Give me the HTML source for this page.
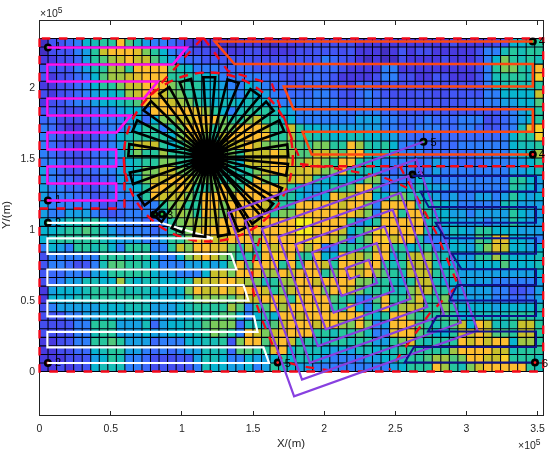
<!DOCTYPE html>
<html><head><meta charset="utf-8"><title>Coverage path planning</title>
<style>html,body{margin:0;padding:0;background:#fff}svg{display:block}text{font-family:"Liberation Sans",Arial,sans-serif;fill:#262626}</style></head><body>
<svg width="550" height="457" viewBox="0 0 550 457">
<rect width="550" height="457" fill="#fff"/>
<rect x="39.5" y="20.0" width="504.0" height="395.5" fill="none" stroke="#262626" stroke-width="1" shape-rendering="crispEdges"/>
<text x="39.5" y="432" font-size="10.5" text-anchor="middle">0</text>
<text x="110.7" y="432" font-size="10.5" text-anchor="middle">0.5</text>
<text x="181.8" y="432" font-size="10.5" text-anchor="middle">1</text>
<text x="253.0" y="432" font-size="10.5" text-anchor="middle">1.5</text>
<text x="324.1" y="432" font-size="10.5" text-anchor="middle">2</text>
<text x="395.3" y="432" font-size="10.5" text-anchor="middle">2.5</text>
<text x="466.4" y="432" font-size="10.5" text-anchor="middle">3</text>
<text x="537.6" y="432" font-size="10.5" text-anchor="middle">3.5</text>
<text x="35" y="375.3" font-size="10.5" text-anchor="end">0</text>
<text x="35" y="304.2" font-size="10.5" text-anchor="end">0.5</text>
<text x="35" y="233.0" font-size="10.5" text-anchor="end">1</text>
<text x="35" y="161.8" font-size="10.5" text-anchor="end">1.5</text>
<text x="35" y="90.7" font-size="10.5" text-anchor="end">2</text>
<path d="M39.5 415.5v-5M39.5 20.0v5M110.7 415.5v-5M110.7 20.0v5M181.8 415.5v-5M181.8 20.0v5M253.0 415.5v-5M253.0 20.0v5M324.1 415.5v-5M324.1 20.0v5M395.3 415.5v-5M395.3 20.0v5M466.4 415.5v-5M466.4 20.0v5M537.6 415.5v-5M537.6 20.0v5M39.5 371.5h5M543.5 371.5h-5M39.5 300.4h5M543.5 300.4h-5M39.5 229.2h5M543.5 229.2h-5M39.5 158.0h5M543.5 158.0h-5M39.5 86.9h5M543.5 86.9h-5" stroke="#262626" stroke-width="1" fill="none" shape-rendering="crispEdges"/>
<text x="291" y="446.5" font-size="11.5" text-anchor="middle">X/(m)</text>
<text transform="translate(9.5,215) rotate(-90)" font-size="11.5" text-anchor="middle">Y/(m)</text>
<text x="40" y="17" font-size="10.5">×10<tspan dy="-4.5" font-size="8.5">5</tspan></text>
<text x="518" y="449" font-size="10.5">×10<tspan dy="-4.5" font-size="8.5">5</tspan></text>
<g shape-rendering="crispEdges">
<path fill="#4330c4" d="M39.50 38.52h8.59v8.59h-8.59zM218.80 38.52h8.59v8.59h-8.59zM227.34 38.52h8.59v8.59h-8.59zM261.49 38.52h8.59v8.59h-8.59zM270.03 38.52h8.59v8.59h-8.59zM39.50 47.06h8.59v8.59h-8.59zM381.02 47.06h8.59v8.59h-8.59zM363.94 55.59h8.59v8.59h-8.59zM381.02 55.59h8.59v8.59h-8.59zM389.56 55.59h8.59v8.59h-8.59z"/>
<path fill="#4256f5" d="M48.04 38.52h8.59v8.59h-8.59zM56.58 38.52h8.59v8.59h-8.59zM176.11 38.52h8.59v8.59h-8.59zM500.55 38.52h8.59v8.59h-8.59zM56.58 47.06h8.59v8.59h-8.59zM65.11 47.06h8.59v8.59h-8.59zM184.65 47.06h8.59v8.59h-8.59zM312.72 47.06h8.59v8.59h-8.59zM321.25 47.06h8.59v8.59h-8.59zM329.79 47.06h8.59v8.59h-8.59zM346.87 47.06h8.59v8.59h-8.59zM398.10 47.06h8.59v8.59h-8.59zM65.11 55.59h8.59v8.59h-8.59zM201.72 55.59h8.59v8.59h-8.59zM210.26 55.59h8.59v8.59h-8.59zM218.80 55.59h8.59v8.59h-8.59zM227.34 55.59h8.59v8.59h-8.59zM235.87 55.59h8.59v8.59h-8.59zM244.41 55.59h8.59v8.59h-8.59zM295.64 55.59h8.59v8.59h-8.59zM304.18 55.59h8.59v8.59h-8.59zM312.72 55.59h8.59v8.59h-8.59zM338.33 55.59h8.59v8.59h-8.59zM39.50 64.13h8.59v8.59h-8.59zM48.04 64.13h8.59v8.59h-8.59zM56.58 64.13h8.59v8.59h-8.59zM65.11 64.13h8.59v8.59h-8.59zM252.95 64.13h8.59v8.59h-8.59zM261.49 64.13h8.59v8.59h-8.59zM270.03 64.13h8.59v8.59h-8.59zM278.56 64.13h8.59v8.59h-8.59zM295.64 64.13h8.59v8.59h-8.59zM304.18 64.13h8.59v8.59h-8.59zM39.50 72.67h8.59v8.59h-8.59zM65.11 72.67h8.59v8.59h-8.59zM278.56 72.67h8.59v8.59h-8.59zM295.64 72.67h8.59v8.59h-8.59zM329.79 72.67h8.59v8.59h-8.59zM432.25 72.67h8.59v8.59h-8.59zM65.11 81.21h8.59v8.59h-8.59zM287.10 81.21h8.59v8.59h-8.59zM295.64 81.21h8.59v8.59h-8.59zM329.79 81.21h8.59v8.59h-8.59zM372.48 81.21h8.59v8.59h-8.59zM381.02 81.21h8.59v8.59h-8.59zM389.56 81.21h8.59v8.59h-8.59zM474.94 81.21h8.59v8.59h-8.59zM65.11 89.75h8.59v8.59h-8.59zM338.33 89.75h8.59v8.59h-8.59zM381.02 89.75h8.59v8.59h-8.59zM415.17 89.75h8.59v8.59h-8.59zM423.71 89.75h8.59v8.59h-8.59zM449.32 89.75h8.59v8.59h-8.59zM457.86 89.75h8.59v8.59h-8.59zM466.40 89.75h8.59v8.59h-8.59zM474.94 89.75h8.59v8.59h-8.59zM56.58 98.28h8.59v8.59h-8.59zM338.33 98.28h8.59v8.59h-8.59zM346.87 98.28h8.59v8.59h-8.59zM389.56 98.28h8.59v8.59h-8.59zM398.10 98.28h8.59v8.59h-8.59zM406.63 98.28h8.59v8.59h-8.59zM415.17 98.28h8.59v8.59h-8.59zM423.71 98.28h8.59v8.59h-8.59zM432.25 98.28h8.59v8.59h-8.59zM440.79 98.28h8.59v8.59h-8.59zM449.32 98.28h8.59v8.59h-8.59zM457.86 98.28h8.59v8.59h-8.59zM39.50 106.82h8.59v8.59h-8.59zM48.04 106.82h8.59v8.59h-8.59zM82.19 106.82h8.59v8.59h-8.59zM398.10 106.82h8.59v8.59h-8.59zM406.63 106.82h8.59v8.59h-8.59zM415.17 106.82h8.59v8.59h-8.59zM423.71 106.82h8.59v8.59h-8.59zM432.25 106.82h8.59v8.59h-8.59zM440.79 106.82h8.59v8.59h-8.59zM449.32 106.82h8.59v8.59h-8.59zM457.86 106.82h8.59v8.59h-8.59zM466.40 106.82h8.59v8.59h-8.59zM474.94 106.82h8.59v8.59h-8.59zM483.48 106.82h8.59v8.59h-8.59zM492.01 106.82h8.59v8.59h-8.59zM82.19 115.36h8.59v8.59h-8.59zM492.01 115.36h8.59v8.59h-8.59zM90.73 123.90h8.59v8.59h-8.59zM483.48 123.90h8.59v8.59h-8.59zM492.01 123.90h8.59v8.59h-8.59zM56.58 132.44h8.59v8.59h-8.59zM90.73 132.44h8.59v8.59h-8.59zM56.58 140.97h8.59v8.59h-8.59zM90.73 140.97h8.59v8.59h-8.59zM56.58 149.51h8.59v8.59h-8.59zM65.11 149.51h8.59v8.59h-8.59zM82.19 149.51h8.59v8.59h-8.59zM65.11 158.05h8.59v8.59h-8.59zM82.19 158.05h8.59v8.59h-8.59zM65.11 166.59h8.59v8.59h-8.59zM73.65 166.59h8.59v8.59h-8.59zM73.65 175.13h8.59v8.59h-8.59zM82.19 175.13h8.59v8.59h-8.59zM90.73 175.13h8.59v8.59h-8.59zM82.19 183.66h8.59v8.59h-8.59zM90.73 183.66h8.59v8.59h-8.59zM90.73 192.20h8.59v8.59h-8.59zM99.27 192.20h8.59v8.59h-8.59zM99.27 200.74h8.59v8.59h-8.59zM107.80 200.74h8.59v8.59h-8.59zM107.80 209.28h8.59v8.59h-8.59zM39.50 260.51h8.59v8.59h-8.59zM82.19 260.51h8.59v8.59h-8.59zM39.50 269.04h8.59v8.59h-8.59zM509.09 286.12h8.59v8.59h-8.59zM517.63 286.12h8.59v8.59h-8.59zM48.04 311.73h8.59v8.59h-8.59zM56.58 311.73h8.59v8.59h-8.59zM65.11 320.27h8.59v8.59h-8.59zM65.11 328.81h8.59v8.59h-8.59zM65.11 337.35h8.59v8.59h-8.59zM227.34 337.35h8.59v8.59h-8.59zM82.19 354.42h8.59v8.59h-8.59zM176.11 354.42h8.59v8.59h-8.59zM184.65 354.42h8.59v8.59h-8.59zM82.19 362.96h8.59v8.59h-8.59zM159.03 362.96h8.59v8.59h-8.59zM184.65 362.96h8.59v8.59h-8.59z"/>
<path fill="#3b6afc" d="M65.11 38.52h8.59v8.59h-8.59zM167.57 38.52h8.59v8.59h-8.59zM176.11 47.06h8.59v8.59h-8.59zM73.65 55.59h8.59v8.59h-8.59zM184.65 55.59h8.59v8.59h-8.59zM193.18 55.59h8.59v8.59h-8.59zM329.79 55.59h8.59v8.59h-8.59zM218.80 64.13h8.59v8.59h-8.59zM227.34 64.13h8.59v8.59h-8.59zM235.87 64.13h8.59v8.59h-8.59zM244.41 64.13h8.59v8.59h-8.59zM312.72 64.13h8.59v8.59h-8.59zM321.25 64.13h8.59v8.59h-8.59zM329.79 64.13h8.59v8.59h-8.59zM73.65 72.67h8.59v8.59h-8.59zM261.49 72.67h8.59v8.59h-8.59zM270.03 72.67h8.59v8.59h-8.59zM304.18 72.67h8.59v8.59h-8.59zM312.72 72.67h8.59v8.59h-8.59zM321.25 72.67h8.59v8.59h-8.59zM73.65 81.21h8.59v8.59h-8.59zM270.03 81.21h8.59v8.59h-8.59zM278.56 81.21h8.59v8.59h-8.59zM304.18 81.21h8.59v8.59h-8.59zM312.72 81.21h8.59v8.59h-8.59zM321.25 81.21h8.59v8.59h-8.59zM355.41 81.21h8.59v8.59h-8.59zM363.94 81.21h8.59v8.59h-8.59zM73.65 89.75h8.59v8.59h-8.59zM278.56 89.75h8.59v8.59h-8.59zM287.10 89.75h8.59v8.59h-8.59zM295.64 89.75h8.59v8.59h-8.59zM304.18 89.75h8.59v8.59h-8.59zM329.79 89.75h8.59v8.59h-8.59zM355.41 89.75h8.59v8.59h-8.59zM372.48 89.75h8.59v8.59h-8.59zM65.11 98.28h8.59v8.59h-8.59zM355.41 98.28h8.59v8.59h-8.59zM372.48 98.28h8.59v8.59h-8.59zM381.02 98.28h8.59v8.59h-8.59zM466.40 98.28h8.59v8.59h-8.59zM474.94 98.28h8.59v8.59h-8.59zM90.73 106.82h8.59v8.59h-8.59zM346.87 106.82h8.59v8.59h-8.59zM381.02 106.82h8.59v8.59h-8.59zM389.56 106.82h8.59v8.59h-8.59zM500.55 106.82h8.59v8.59h-8.59zM39.50 115.36h8.59v8.59h-8.59zM48.04 115.36h8.59v8.59h-8.59zM90.73 115.36h8.59v8.59h-8.59zM141.96 115.36h8.59v8.59h-8.59zM398.10 115.36h8.59v8.59h-8.59zM406.63 115.36h8.59v8.59h-8.59zM415.17 115.36h8.59v8.59h-8.59zM432.25 115.36h8.59v8.59h-8.59zM440.79 115.36h8.59v8.59h-8.59zM449.32 115.36h8.59v8.59h-8.59zM500.55 115.36h8.59v8.59h-8.59zM48.04 123.90h8.59v8.59h-8.59zM99.27 123.90h8.59v8.59h-8.59zM398.10 123.90h8.59v8.59h-8.59zM406.63 123.90h8.59v8.59h-8.59zM440.79 123.90h8.59v8.59h-8.59zM449.32 123.90h8.59v8.59h-8.59zM474.94 123.90h8.59v8.59h-8.59zM500.55 123.90h8.59v8.59h-8.59zM48.04 132.44h8.59v8.59h-8.59zM99.27 132.44h8.59v8.59h-8.59zM406.63 132.44h8.59v8.59h-8.59zM415.17 132.44h8.59v8.59h-8.59zM423.71 132.44h8.59v8.59h-8.59zM432.25 132.44h8.59v8.59h-8.59zM440.79 132.44h8.59v8.59h-8.59zM449.32 132.44h8.59v8.59h-8.59zM457.86 132.44h8.59v8.59h-8.59zM466.40 132.44h8.59v8.59h-8.59zM474.94 132.44h8.59v8.59h-8.59zM483.48 132.44h8.59v8.59h-8.59zM492.01 132.44h8.59v8.59h-8.59zM48.04 140.97h8.59v8.59h-8.59zM99.27 140.97h8.59v8.59h-8.59zM423.71 140.97h8.59v8.59h-8.59zM432.25 140.97h8.59v8.59h-8.59zM440.79 140.97h8.59v8.59h-8.59zM449.32 140.97h8.59v8.59h-8.59zM48.04 149.51h8.59v8.59h-8.59zM90.73 149.51h8.59v8.59h-8.59zM99.27 149.51h8.59v8.59h-8.59zM423.71 149.51h8.59v8.59h-8.59zM432.25 149.51h8.59v8.59h-8.59zM440.79 149.51h8.59v8.59h-8.59zM449.32 149.51h8.59v8.59h-8.59zM457.86 149.51h8.59v8.59h-8.59zM466.40 149.51h8.59v8.59h-8.59zM56.58 158.05h8.59v8.59h-8.59zM90.73 158.05h8.59v8.59h-8.59zM415.17 158.05h8.59v8.59h-8.59zM449.32 158.05h8.59v8.59h-8.59zM457.86 158.05h8.59v8.59h-8.59zM466.40 158.05h8.59v8.59h-8.59zM474.94 158.05h8.59v8.59h-8.59zM56.58 166.59h8.59v8.59h-8.59zM82.19 166.59h8.59v8.59h-8.59zM90.73 166.59h8.59v8.59h-8.59zM389.56 166.59h8.59v8.59h-8.59zM415.17 166.59h8.59v8.59h-8.59zM56.58 175.13h8.59v8.59h-8.59zM65.11 175.13h8.59v8.59h-8.59zM99.27 175.13h8.59v8.59h-8.59zM107.80 175.13h8.59v8.59h-8.59zM65.11 183.66h8.59v8.59h-8.59zM73.65 183.66h8.59v8.59h-8.59zM99.27 183.66h8.59v8.59h-8.59zM107.80 183.66h8.59v8.59h-8.59zM73.65 192.20h8.59v8.59h-8.59zM82.19 192.20h8.59v8.59h-8.59zM107.80 192.20h8.59v8.59h-8.59zM90.73 200.74h8.59v8.59h-8.59zM116.34 200.74h8.59v8.59h-8.59zM124.88 200.74h8.59v8.59h-8.59zM133.42 200.74h8.59v8.59h-8.59zM99.27 209.28h8.59v8.59h-8.59zM116.34 209.28h8.59v8.59h-8.59zM141.96 217.82h8.59v8.59h-8.59zM150.49 217.82h8.59v8.59h-8.59zM150.49 226.35h8.59v8.59h-8.59zM65.11 260.51h8.59v8.59h-8.59zM48.04 269.04h8.59v8.59h-8.59zM56.58 269.04h8.59v8.59h-8.59zM82.19 269.04h8.59v8.59h-8.59zM48.04 277.58h8.59v8.59h-8.59zM526.17 286.12h8.59v8.59h-8.59zM509.09 294.66h8.59v8.59h-8.59zM517.63 294.66h8.59v8.59h-8.59zM150.49 320.27h8.59v8.59h-8.59zM235.87 320.27h8.59v8.59h-8.59zM150.49 337.35h8.59v8.59h-8.59zM73.65 345.89h8.59v8.59h-8.59zM82.19 345.89h8.59v8.59h-8.59zM150.49 345.89h8.59v8.59h-8.59zM167.57 345.89h8.59v8.59h-8.59zM227.34 345.89h8.59v8.59h-8.59zM141.96 354.42h8.59v8.59h-8.59zM141.96 362.96h8.59v8.59h-8.59z"/>
<path fill="#2e7ffa" d="M73.65 38.52h8.59v8.59h-8.59zM150.49 38.52h8.59v8.59h-8.59zM159.03 38.52h8.59v8.59h-8.59zM73.65 47.06h8.59v8.59h-8.59zM167.57 47.06h8.59v8.59h-8.59zM483.48 47.06h8.59v8.59h-8.59zM492.01 47.06h8.59v8.59h-8.59zM176.11 55.59h8.59v8.59h-8.59zM321.25 55.59h8.59v8.59h-8.59zM483.48 55.59h8.59v8.59h-8.59zM73.65 64.13h8.59v8.59h-8.59zM193.18 64.13h8.59v8.59h-8.59zM201.72 64.13h8.59v8.59h-8.59zM210.26 64.13h8.59v8.59h-8.59zM381.02 64.13h8.59v8.59h-8.59zM389.56 64.13h8.59v8.59h-8.59zM483.48 64.13h8.59v8.59h-8.59zM82.19 72.67h8.59v8.59h-8.59zM218.80 72.67h8.59v8.59h-8.59zM227.34 72.67h8.59v8.59h-8.59zM235.87 72.67h8.59v8.59h-8.59zM244.41 72.67h8.59v8.59h-8.59zM252.95 72.67h8.59v8.59h-8.59zM381.02 72.67h8.59v8.59h-8.59zM389.56 72.67h8.59v8.59h-8.59zM483.48 72.67h8.59v8.59h-8.59zM82.19 81.21h8.59v8.59h-8.59zM227.34 81.21h8.59v8.59h-8.59zM235.87 81.21h8.59v8.59h-8.59zM261.49 81.21h8.59v8.59h-8.59zM483.48 81.21h8.59v8.59h-8.59zM82.19 89.75h8.59v8.59h-8.59zM235.87 89.75h8.59v8.59h-8.59zM270.03 89.75h8.59v8.59h-8.59zM312.72 89.75h8.59v8.59h-8.59zM321.25 89.75h8.59v8.59h-8.59zM363.94 89.75h8.59v8.59h-8.59zM483.48 89.75h8.59v8.59h-8.59zM492.01 89.75h8.59v8.59h-8.59zM73.65 98.28h8.59v8.59h-8.59zM82.19 98.28h8.59v8.59h-8.59zM278.56 98.28h8.59v8.59h-8.59zM287.10 98.28h8.59v8.59h-8.59zM295.64 98.28h8.59v8.59h-8.59zM304.18 98.28h8.59v8.59h-8.59zM312.72 98.28h8.59v8.59h-8.59zM321.25 98.28h8.59v8.59h-8.59zM329.79 98.28h8.59v8.59h-8.59zM363.94 98.28h8.59v8.59h-8.59zM483.48 98.28h8.59v8.59h-8.59zM492.01 98.28h8.59v8.59h-8.59zM99.27 106.82h8.59v8.59h-8.59zM107.80 106.82h8.59v8.59h-8.59zM141.96 106.82h8.59v8.59h-8.59zM227.34 106.82h8.59v8.59h-8.59zM295.64 106.82h8.59v8.59h-8.59zM304.18 106.82h8.59v8.59h-8.59zM312.72 106.82h8.59v8.59h-8.59zM321.25 106.82h8.59v8.59h-8.59zM329.79 106.82h8.59v8.59h-8.59zM338.33 106.82h8.59v8.59h-8.59zM355.41 106.82h8.59v8.59h-8.59zM363.94 106.82h8.59v8.59h-8.59zM372.48 106.82h8.59v8.59h-8.59zM509.09 106.82h8.59v8.59h-8.59zM99.27 115.36h8.59v8.59h-8.59zM107.80 115.36h8.59v8.59h-8.59zM116.34 115.36h8.59v8.59h-8.59zM295.64 115.36h8.59v8.59h-8.59zM304.18 115.36h8.59v8.59h-8.59zM312.72 115.36h8.59v8.59h-8.59zM321.25 115.36h8.59v8.59h-8.59zM329.79 115.36h8.59v8.59h-8.59zM338.33 115.36h8.59v8.59h-8.59zM346.87 115.36h8.59v8.59h-8.59zM381.02 115.36h8.59v8.59h-8.59zM389.56 115.36h8.59v8.59h-8.59zM423.71 115.36h8.59v8.59h-8.59zM457.86 115.36h8.59v8.59h-8.59zM466.40 115.36h8.59v8.59h-8.59zM474.94 115.36h8.59v8.59h-8.59zM509.09 115.36h8.59v8.59h-8.59zM39.50 123.90h8.59v8.59h-8.59zM107.80 123.90h8.59v8.59h-8.59zM116.34 123.90h8.59v8.59h-8.59zM159.03 123.90h8.59v8.59h-8.59zM381.02 123.90h8.59v8.59h-8.59zM389.56 123.90h8.59v8.59h-8.59zM415.17 123.90h8.59v8.59h-8.59zM423.71 123.90h8.59v8.59h-8.59zM432.25 123.90h8.59v8.59h-8.59zM457.86 123.90h8.59v8.59h-8.59zM466.40 123.90h8.59v8.59h-8.59zM509.09 123.90h8.59v8.59h-8.59zM39.50 132.44h8.59v8.59h-8.59zM107.80 132.44h8.59v8.59h-8.59zM398.10 132.44h8.59v8.59h-8.59zM500.55 132.44h8.59v8.59h-8.59zM39.50 140.97h8.59v8.59h-8.59zM107.80 140.97h8.59v8.59h-8.59zM398.10 140.97h8.59v8.59h-8.59zM406.63 140.97h8.59v8.59h-8.59zM415.17 140.97h8.59v8.59h-8.59zM457.86 140.97h8.59v8.59h-8.59zM466.40 140.97h8.59v8.59h-8.59zM474.94 140.97h8.59v8.59h-8.59zM483.48 140.97h8.59v8.59h-8.59zM492.01 140.97h8.59v8.59h-8.59zM500.55 140.97h8.59v8.59h-8.59zM39.50 149.51h8.59v8.59h-8.59zM107.80 149.51h8.59v8.59h-8.59zM398.10 149.51h8.59v8.59h-8.59zM406.63 149.51h8.59v8.59h-8.59zM415.17 149.51h8.59v8.59h-8.59zM474.94 149.51h8.59v8.59h-8.59zM483.48 149.51h8.59v8.59h-8.59zM492.01 149.51h8.59v8.59h-8.59zM500.55 149.51h8.59v8.59h-8.59zM39.50 158.05h8.59v8.59h-8.59zM48.04 158.05h8.59v8.59h-8.59zM99.27 158.05h8.59v8.59h-8.59zM107.80 158.05h8.59v8.59h-8.59zM116.34 158.05h8.59v8.59h-8.59zM381.02 158.05h8.59v8.59h-8.59zM389.56 158.05h8.59v8.59h-8.59zM398.10 158.05h8.59v8.59h-8.59zM406.63 158.05h8.59v8.59h-8.59zM423.71 158.05h8.59v8.59h-8.59zM440.79 158.05h8.59v8.59h-8.59zM483.48 158.05h8.59v8.59h-8.59zM492.01 158.05h8.59v8.59h-8.59zM500.55 158.05h8.59v8.59h-8.59zM509.09 158.05h8.59v8.59h-8.59zM48.04 166.59h8.59v8.59h-8.59zM99.27 166.59h8.59v8.59h-8.59zM107.80 166.59h8.59v8.59h-8.59zM381.02 166.59h8.59v8.59h-8.59zM398.10 166.59h8.59v8.59h-8.59zM406.63 166.59h8.59v8.59h-8.59zM423.71 166.59h8.59v8.59h-8.59zM440.79 166.59h8.59v8.59h-8.59zM449.32 166.59h8.59v8.59h-8.59zM457.86 166.59h8.59v8.59h-8.59zM466.40 166.59h8.59v8.59h-8.59zM474.94 166.59h8.59v8.59h-8.59zM483.48 166.59h8.59v8.59h-8.59zM492.01 166.59h8.59v8.59h-8.59zM500.55 166.59h8.59v8.59h-8.59zM48.04 175.13h8.59v8.59h-8.59zM381.02 175.13h8.59v8.59h-8.59zM389.56 175.13h8.59v8.59h-8.59zM398.10 175.13h8.59v8.59h-8.59zM406.63 175.13h8.59v8.59h-8.59zM432.25 175.13h8.59v8.59h-8.59zM440.79 175.13h8.59v8.59h-8.59zM449.32 175.13h8.59v8.59h-8.59zM457.86 175.13h8.59v8.59h-8.59zM466.40 175.13h8.59v8.59h-8.59zM474.94 175.13h8.59v8.59h-8.59zM483.48 175.13h8.59v8.59h-8.59zM492.01 175.13h8.59v8.59h-8.59zM500.55 175.13h8.59v8.59h-8.59zM48.04 183.66h8.59v8.59h-8.59zM56.58 183.66h8.59v8.59h-8.59zM116.34 183.66h8.59v8.59h-8.59zM381.02 183.66h8.59v8.59h-8.59zM389.56 183.66h8.59v8.59h-8.59zM449.32 183.66h8.59v8.59h-8.59zM457.86 183.66h8.59v8.59h-8.59zM466.40 183.66h8.59v8.59h-8.59zM474.94 183.66h8.59v8.59h-8.59zM483.48 183.66h8.59v8.59h-8.59zM492.01 183.66h8.59v8.59h-8.59zM500.55 183.66h8.59v8.59h-8.59zM48.04 192.20h8.59v8.59h-8.59zM56.58 192.20h8.59v8.59h-8.59zM65.11 192.20h8.59v8.59h-8.59zM116.34 192.20h8.59v8.59h-8.59zM124.88 192.20h8.59v8.59h-8.59zM440.79 192.20h8.59v8.59h-8.59zM457.86 192.20h8.59v8.59h-8.59zM466.40 192.20h8.59v8.59h-8.59zM492.01 192.20h8.59v8.59h-8.59zM48.04 200.74h8.59v8.59h-8.59zM56.58 200.74h8.59v8.59h-8.59zM65.11 200.74h8.59v8.59h-8.59zM73.65 200.74h8.59v8.59h-8.59zM82.19 200.74h8.59v8.59h-8.59zM141.96 200.74h8.59v8.59h-8.59zM150.49 200.74h8.59v8.59h-8.59zM372.48 200.74h8.59v8.59h-8.59zM457.86 200.74h8.59v8.59h-8.59zM466.40 200.74h8.59v8.59h-8.59zM474.94 200.74h8.59v8.59h-8.59zM483.48 200.74h8.59v8.59h-8.59zM492.01 200.74h8.59v8.59h-8.59zM48.04 209.28h8.59v8.59h-8.59zM56.58 209.28h8.59v8.59h-8.59zM90.73 209.28h8.59v8.59h-8.59zM124.88 209.28h8.59v8.59h-8.59zM133.42 209.28h8.59v8.59h-8.59zM141.96 209.28h8.59v8.59h-8.59zM150.49 209.28h8.59v8.59h-8.59zM372.48 209.28h8.59v8.59h-8.59zM466.40 209.28h8.59v8.59h-8.59zM107.80 217.82h8.59v8.59h-8.59zM116.34 217.82h8.59v8.59h-8.59zM124.88 217.82h8.59v8.59h-8.59zM133.42 217.82h8.59v8.59h-8.59zM159.03 217.82h8.59v8.59h-8.59zM355.41 217.82h8.59v8.59h-8.59zM483.48 217.82h8.59v8.59h-8.59zM116.34 226.35h8.59v8.59h-8.59zM124.88 226.35h8.59v8.59h-8.59zM133.42 226.35h8.59v8.59h-8.59zM141.96 226.35h8.59v8.59h-8.59zM159.03 226.35h8.59v8.59h-8.59zM141.96 234.89h8.59v8.59h-8.59zM150.49 234.89h8.59v8.59h-8.59zM346.87 234.89h8.59v8.59h-8.59zM423.71 234.89h8.59v8.59h-8.59zM432.25 234.89h8.59v8.59h-8.59zM440.79 234.89h8.59v8.59h-8.59zM534.70 234.89h8.59v8.59h-8.59zM39.50 243.43h8.59v8.59h-8.59zM65.11 243.43h8.59v8.59h-8.59zM116.34 243.43h8.59v8.59h-8.59zM150.49 243.43h8.59v8.59h-8.59zM159.03 243.43h8.59v8.59h-8.59zM321.25 243.43h8.59v8.59h-8.59zM329.79 243.43h8.59v8.59h-8.59zM432.25 243.43h8.59v8.59h-8.59zM48.04 251.97h8.59v8.59h-8.59zM56.58 251.97h8.59v8.59h-8.59zM65.11 251.97h8.59v8.59h-8.59zM73.65 251.97h8.59v8.59h-8.59zM82.19 251.97h8.59v8.59h-8.59zM90.73 251.97h8.59v8.59h-8.59zM159.03 251.97h8.59v8.59h-8.59zM167.57 251.97h8.59v8.59h-8.59zM48.04 260.51h8.59v8.59h-8.59zM56.58 260.51h8.59v8.59h-8.59zM90.73 260.51h8.59v8.59h-8.59zM159.03 260.51h8.59v8.59h-8.59zM167.57 260.51h8.59v8.59h-8.59zM176.11 260.51h8.59v8.59h-8.59zM65.11 269.04h8.59v8.59h-8.59zM73.65 269.04h8.59v8.59h-8.59zM176.11 269.04h8.59v8.59h-8.59zM184.65 269.04h8.59v8.59h-8.59zM193.18 269.04h8.59v8.59h-8.59zM56.58 277.58h8.59v8.59h-8.59zM492.01 277.58h8.59v8.59h-8.59zM500.55 277.58h8.59v8.59h-8.59zM509.09 277.58h8.59v8.59h-8.59zM517.63 277.58h8.59v8.59h-8.59zM526.17 277.58h8.59v8.59h-8.59zM492.01 286.12h8.59v8.59h-8.59zM500.55 286.12h8.59v8.59h-8.59zM355.41 294.66h8.59v8.59h-8.59zM363.94 294.66h8.59v8.59h-8.59zM492.01 294.66h8.59v8.59h-8.59zM500.55 294.66h8.59v8.59h-8.59zM526.17 294.66h8.59v8.59h-8.59zM48.04 303.20h8.59v8.59h-8.59zM244.41 303.20h8.59v8.59h-8.59zM363.94 303.20h8.59v8.59h-8.59zM65.11 311.73h8.59v8.59h-8.59zM73.65 311.73h8.59v8.59h-8.59zM244.41 311.73h8.59v8.59h-8.59zM73.65 320.27h8.59v8.59h-8.59zM82.19 320.27h8.59v8.59h-8.59zM372.48 320.27h8.59v8.59h-8.59zM73.65 328.81h8.59v8.59h-8.59zM82.19 328.81h8.59v8.59h-8.59zM235.87 328.81h8.59v8.59h-8.59zM372.48 328.81h8.59v8.59h-8.59zM381.02 328.81h8.59v8.59h-8.59zM73.65 337.35h8.59v8.59h-8.59zM82.19 337.35h8.59v8.59h-8.59zM159.03 337.35h8.59v8.59h-8.59zM167.57 337.35h8.59v8.59h-8.59zM176.11 337.35h8.59v8.59h-8.59zM141.96 345.89h8.59v8.59h-8.59zM159.03 345.89h8.59v8.59h-8.59zM176.11 345.89h8.59v8.59h-8.59zM124.88 354.42h8.59v8.59h-8.59zM133.42 354.42h8.59v8.59h-8.59zM227.34 354.42h8.59v8.59h-8.59zM235.87 354.42h8.59v8.59h-8.59zM329.79 354.42h8.59v8.59h-8.59zM338.33 354.42h8.59v8.59h-8.59zM346.87 354.42h8.59v8.59h-8.59zM355.41 354.42h8.59v8.59h-8.59zM124.88 362.96h8.59v8.59h-8.59zM133.42 362.96h8.59v8.59h-8.59zM193.18 362.96h8.59v8.59h-8.59zM252.95 362.96h8.59v8.59h-8.59zM312.72 362.96h8.59v8.59h-8.59zM321.25 362.96h8.59v8.59h-8.59zM329.79 362.96h8.59v8.59h-8.59zM338.33 362.96h8.59v8.59h-8.59zM346.87 362.96h8.59v8.59h-8.59zM355.41 362.96h8.59v8.59h-8.59zM363.94 362.96h8.59v8.59h-8.59zM372.48 362.96h8.59v8.59h-8.59zM381.02 362.96h8.59v8.59h-8.59z"/>
<path fill="#08b4d0" d="M82.19 38.52h8.59v8.59h-8.59zM509.09 38.52h8.59v8.59h-8.59zM517.63 38.52h8.59v8.59h-8.59zM159.03 47.06h8.59v8.59h-8.59zM492.01 55.59h8.59v8.59h-8.59zM184.65 64.13h8.59v8.59h-8.59zM90.73 72.67h8.59v8.59h-8.59zM201.72 72.67h8.59v8.59h-8.59zM210.26 72.67h8.59v8.59h-8.59zM90.73 81.21h8.59v8.59h-8.59zM201.72 81.21h8.59v8.59h-8.59zM210.26 81.21h8.59v8.59h-8.59zM244.41 81.21h8.59v8.59h-8.59zM492.01 81.21h8.59v8.59h-8.59zM99.27 89.75h8.59v8.59h-8.59zM107.80 89.75h8.59v8.59h-8.59zM201.72 89.75h8.59v8.59h-8.59zM210.26 89.75h8.59v8.59h-8.59zM218.80 89.75h8.59v8.59h-8.59zM252.95 89.75h8.59v8.59h-8.59zM500.55 89.75h8.59v8.59h-8.59zM509.09 89.75h8.59v8.59h-8.59zM517.63 89.75h8.59v8.59h-8.59zM526.17 89.75h8.59v8.59h-8.59zM99.27 98.28h8.59v8.59h-8.59zM107.80 98.28h8.59v8.59h-8.59zM210.26 98.28h8.59v8.59h-8.59zM235.87 98.28h8.59v8.59h-8.59zM261.49 98.28h8.59v8.59h-8.59zM517.63 98.28h8.59v8.59h-8.59zM526.17 98.28h8.59v8.59h-8.59zM124.88 106.82h8.59v8.59h-8.59zM133.42 106.82h8.59v8.59h-8.59zM218.80 106.82h8.59v8.59h-8.59zM278.56 106.82h8.59v8.59h-8.59zM526.17 106.82h8.59v8.59h-8.59zM133.42 115.36h8.59v8.59h-8.59zM150.49 115.36h8.59v8.59h-8.59zM278.56 115.36h8.59v8.59h-8.59zM287.10 115.36h8.59v8.59h-8.59zM526.17 115.36h8.59v8.59h-8.59zM133.42 123.90h8.59v8.59h-8.59zM304.18 123.90h8.59v8.59h-8.59zM312.72 123.90h8.59v8.59h-8.59zM116.34 132.44h8.59v8.59h-8.59zM167.57 132.44h8.59v8.59h-8.59zM329.79 132.44h8.59v8.59h-8.59zM338.33 132.44h8.59v8.59h-8.59zM363.94 132.44h8.59v8.59h-8.59zM372.48 132.44h8.59v8.59h-8.59zM509.09 132.44h8.59v8.59h-8.59zM167.57 140.97h8.59v8.59h-8.59zM389.56 140.97h8.59v8.59h-8.59zM509.09 140.97h8.59v8.59h-8.59zM372.48 149.51h8.59v8.59h-8.59zM389.56 149.51h8.59v8.59h-8.59zM517.63 149.51h8.59v8.59h-8.59zM124.88 158.05h8.59v8.59h-8.59zM235.87 158.05h8.59v8.59h-8.59zM372.48 158.05h8.59v8.59h-8.59zM526.17 158.05h8.59v8.59h-8.59zM124.88 166.59h8.59v8.59h-8.59zM372.48 166.59h8.59v8.59h-8.59zM526.17 166.59h8.59v8.59h-8.59zM133.42 175.13h8.59v8.59h-8.59zM321.25 175.13h8.59v8.59h-8.59zM329.79 175.13h8.59v8.59h-8.59zM338.33 175.13h8.59v8.59h-8.59zM346.87 175.13h8.59v8.59h-8.59zM355.41 175.13h8.59v8.59h-8.59zM415.17 175.13h8.59v8.59h-8.59zM526.17 175.13h8.59v8.59h-8.59zM133.42 183.66h8.59v8.59h-8.59zM295.64 183.66h8.59v8.59h-8.59zM321.25 183.66h8.59v8.59h-8.59zM398.10 183.66h8.59v8.59h-8.59zM406.63 183.66h8.59v8.59h-8.59zM423.71 183.66h8.59v8.59h-8.59zM526.17 183.66h8.59v8.59h-8.59zM295.64 192.20h8.59v8.59h-8.59zM321.25 192.20h8.59v8.59h-8.59zM372.48 192.20h8.59v8.59h-8.59zM381.02 192.20h8.59v8.59h-8.59zM423.71 192.20h8.59v8.59h-8.59zM517.63 192.20h8.59v8.59h-8.59zM534.70 192.20h8.59v8.59h-8.59zM440.79 200.74h8.59v8.59h-8.59zM159.03 209.28h8.59v8.59h-8.59zM432.25 209.28h8.59v8.59h-8.59zM440.79 209.28h8.59v8.59h-8.59zM517.63 209.28h8.59v8.59h-8.59zM39.50 217.82h8.59v8.59h-8.59zM56.58 217.82h8.59v8.59h-8.59zM99.27 217.82h8.59v8.59h-8.59zM363.94 217.82h8.59v8.59h-8.59zM440.79 217.82h8.59v8.59h-8.59zM449.32 217.82h8.59v8.59h-8.59zM517.63 217.82h8.59v8.59h-8.59zM39.50 226.35h8.59v8.59h-8.59zM48.04 226.35h8.59v8.59h-8.59zM346.87 226.35h8.59v8.59h-8.59zM457.86 226.35h8.59v8.59h-8.59zM492.01 226.35h8.59v8.59h-8.59zM500.55 226.35h8.59v8.59h-8.59zM509.09 226.35h8.59v8.59h-8.59zM39.50 234.89h8.59v8.59h-8.59zM107.80 234.89h8.59v8.59h-8.59zM449.32 234.89h8.59v8.59h-8.59zM509.09 234.89h8.59v8.59h-8.59zM517.63 234.89h8.59v8.59h-8.59zM48.04 243.43h8.59v8.59h-8.59zM107.80 243.43h8.59v8.59h-8.59zM406.63 243.43h8.59v8.59h-8.59zM449.32 243.43h8.59v8.59h-8.59zM457.86 243.43h8.59v8.59h-8.59zM509.09 243.43h8.59v8.59h-8.59zM517.63 243.43h8.59v8.59h-8.59zM534.70 243.43h8.59v8.59h-8.59zM176.11 251.97h8.59v8.59h-8.59zM321.25 251.97h8.59v8.59h-8.59zM329.79 251.97h8.59v8.59h-8.59zM389.56 251.97h8.59v8.59h-8.59zM449.32 251.97h8.59v8.59h-8.59zM509.09 251.97h8.59v8.59h-8.59zM517.63 251.97h8.59v8.59h-8.59zM526.17 251.97h8.59v8.59h-8.59zM150.49 260.51h8.59v8.59h-8.59zM201.72 260.51h8.59v8.59h-8.59zM218.80 260.51h8.59v8.59h-8.59zM440.79 260.51h8.59v8.59h-8.59zM449.32 260.51h8.59v8.59h-8.59zM457.86 260.51h8.59v8.59h-8.59zM474.94 260.51h8.59v8.59h-8.59zM483.48 260.51h8.59v8.59h-8.59zM492.01 260.51h8.59v8.59h-8.59zM509.09 260.51h8.59v8.59h-8.59zM517.63 260.51h8.59v8.59h-8.59zM526.17 260.51h8.59v8.59h-8.59zM99.27 269.04h8.59v8.59h-8.59zM150.49 269.04h8.59v8.59h-8.59zM201.72 269.04h8.59v8.59h-8.59zM534.70 269.04h8.59v8.59h-8.59zM99.27 277.58h8.59v8.59h-8.59zM107.80 277.58h8.59v8.59h-8.59zM133.42 277.58h8.59v8.59h-8.59zM159.03 277.58h8.59v8.59h-8.59zM167.57 277.58h8.59v8.59h-8.59zM176.11 277.58h8.59v8.59h-8.59zM398.10 277.58h8.59v8.59h-8.59zM440.79 277.58h8.59v8.59h-8.59zM449.32 277.58h8.59v8.59h-8.59zM56.58 286.12h8.59v8.59h-8.59zM65.11 286.12h8.59v8.59h-8.59zM73.65 286.12h8.59v8.59h-8.59zM150.49 286.12h8.59v8.59h-8.59zM159.03 286.12h8.59v8.59h-8.59zM167.57 286.12h8.59v8.59h-8.59zM176.11 286.12h8.59v8.59h-8.59zM48.04 294.66h8.59v8.59h-8.59zM56.58 294.66h8.59v8.59h-8.59zM65.11 294.66h8.59v8.59h-8.59zM150.49 294.66h8.59v8.59h-8.59zM159.03 294.66h8.59v8.59h-8.59zM167.57 294.66h8.59v8.59h-8.59zM176.11 294.66h8.59v8.59h-8.59zM99.27 303.20h8.59v8.59h-8.59zM107.80 303.20h8.59v8.59h-8.59zM116.34 303.20h8.59v8.59h-8.59zM176.11 303.20h8.59v8.59h-8.59zM355.41 303.20h8.59v8.59h-8.59zM457.86 303.20h8.59v8.59h-8.59zM466.40 303.20h8.59v8.59h-8.59zM474.94 303.20h8.59v8.59h-8.59zM483.48 303.20h8.59v8.59h-8.59zM500.55 303.20h8.59v8.59h-8.59zM509.09 303.20h8.59v8.59h-8.59zM517.63 303.20h8.59v8.59h-8.59zM526.17 303.20h8.59v8.59h-8.59zM99.27 311.73h8.59v8.59h-8.59zM107.80 311.73h8.59v8.59h-8.59zM116.34 311.73h8.59v8.59h-8.59zM124.88 311.73h8.59v8.59h-8.59zM133.42 311.73h8.59v8.59h-8.59zM141.96 311.73h8.59v8.59h-8.59zM176.11 311.73h8.59v8.59h-8.59zM184.65 311.73h8.59v8.59h-8.59zM235.87 311.73h8.59v8.59h-8.59zM252.95 311.73h8.59v8.59h-8.59zM270.03 311.73h8.59v8.59h-8.59zM372.48 311.73h8.59v8.59h-8.59zM457.86 311.73h8.59v8.59h-8.59zM466.40 311.73h8.59v8.59h-8.59zM167.57 320.27h8.59v8.59h-8.59zM176.11 320.27h8.59v8.59h-8.59zM261.49 320.27h8.59v8.59h-8.59zM466.40 320.27h8.59v8.59h-8.59zM141.96 328.81h8.59v8.59h-8.59zM167.57 328.81h8.59v8.59h-8.59zM176.11 328.81h8.59v8.59h-8.59zM184.65 328.81h8.59v8.59h-8.59zM432.25 328.81h8.59v8.59h-8.59zM440.79 328.81h8.59v8.59h-8.59zM184.65 337.35h8.59v8.59h-8.59zM193.18 337.35h8.59v8.59h-8.59zM509.09 337.35h8.59v8.59h-8.59zM90.73 345.89h8.59v8.59h-8.59zM287.10 345.89h8.59v8.59h-8.59zM321.25 345.89h8.59v8.59h-8.59zM338.33 345.89h8.59v8.59h-8.59zM372.48 345.89h8.59v8.59h-8.59zM99.27 354.42h8.59v8.59h-8.59zM218.80 354.42h8.59v8.59h-8.59zM244.41 354.42h8.59v8.59h-8.59zM270.03 354.42h8.59v8.59h-8.59zM287.10 354.42h8.59v8.59h-8.59zM312.72 354.42h8.59v8.59h-8.59zM381.02 354.42h8.59v8.59h-8.59zM90.73 362.96h8.59v8.59h-8.59zM210.26 362.96h8.59v8.59h-8.59zM218.80 362.96h8.59v8.59h-8.59zM244.41 362.96h8.59v8.59h-8.59zM287.10 362.96h8.59v8.59h-8.59zM398.10 362.96h8.59v8.59h-8.59z"/>
<path fill="#17bdb7" d="M90.73 38.52h8.59v8.59h-8.59zM133.42 38.52h8.59v8.59h-8.59zM526.17 38.52h8.59v8.59h-8.59zM500.55 47.06h8.59v8.59h-8.59zM517.63 47.06h8.59v8.59h-8.59zM159.03 55.59h8.59v8.59h-8.59zM517.63 55.59h8.59v8.59h-8.59zM534.70 55.59h8.59v8.59h-8.59zM90.73 64.13h8.59v8.59h-8.59zM176.11 64.13h8.59v8.59h-8.59zM526.17 64.13h8.59v8.59h-8.59zM193.18 72.67h8.59v8.59h-8.59zM492.01 72.67h8.59v8.59h-8.59zM526.17 72.67h8.59v8.59h-8.59zM500.55 81.21h8.59v8.59h-8.59zM517.63 81.21h8.59v8.59h-8.59zM526.17 81.21h8.59v8.59h-8.59zM116.34 89.75h8.59v8.59h-8.59zM193.18 89.75h8.59v8.59h-8.59zM244.41 89.75h8.59v8.59h-8.59zM116.34 98.28h8.59v8.59h-8.59zM201.72 98.28h8.59v8.59h-8.59zM218.80 98.28h8.59v8.59h-8.59zM227.34 98.28h8.59v8.59h-8.59zM244.41 98.28h8.59v8.59h-8.59zM252.95 98.28h8.59v8.59h-8.59zM235.87 106.82h8.59v8.59h-8.59zM270.03 106.82h8.59v8.59h-8.59zM517.63 123.90h8.59v8.59h-8.59zM124.88 132.44h8.59v8.59h-8.59zM312.72 132.44h8.59v8.59h-8.59zM321.25 132.44h8.59v8.59h-8.59zM346.87 132.44h8.59v8.59h-8.59zM355.41 132.44h8.59v8.59h-8.59zM372.48 140.97h8.59v8.59h-8.59zM517.63 140.97h8.59v8.59h-8.59zM526.17 140.97h8.59v8.59h-8.59zM363.94 149.51h8.59v8.59h-8.59zM381.02 149.51h8.59v8.59h-8.59zM526.17 149.51h8.59v8.59h-8.59zM133.42 158.05h8.59v8.59h-8.59zM363.94 158.05h8.59v8.59h-8.59zM133.42 166.59h8.59v8.59h-8.59zM235.87 166.59h8.59v8.59h-8.59zM355.41 166.59h8.59v8.59h-8.59zM363.94 166.59h8.59v8.59h-8.59zM534.70 166.59h8.59v8.59h-8.59zM415.17 183.66h8.59v8.59h-8.59zM517.63 183.66h8.59v8.59h-8.59zM415.17 192.20h8.59v8.59h-8.59zM423.71 200.74h8.59v8.59h-8.59zM432.25 200.74h8.59v8.59h-8.59zM500.55 200.74h8.59v8.59h-8.59zM509.09 200.74h8.59v8.59h-8.59zM65.11 217.82h8.59v8.59h-8.59zM73.65 217.82h8.59v8.59h-8.59zM82.19 217.82h8.59v8.59h-8.59zM423.71 217.82h8.59v8.59h-8.59zM432.25 217.82h8.59v8.59h-8.59zM56.58 226.35h8.59v8.59h-8.59zM99.27 226.35h8.59v8.59h-8.59zM423.71 226.35h8.59v8.59h-8.59zM449.32 226.35h8.59v8.59h-8.59zM48.04 234.89h8.59v8.59h-8.59zM99.27 234.89h8.59v8.59h-8.59zM90.73 243.43h8.59v8.59h-8.59zM415.17 243.43h8.59v8.59h-8.59zM124.88 251.97h8.59v8.59h-8.59zM235.87 251.97h8.59v8.59h-8.59zM440.79 251.97h8.59v8.59h-8.59zM534.70 251.97h8.59v8.59h-8.59zM99.27 260.51h8.59v8.59h-8.59zM141.96 260.51h8.59v8.59h-8.59zM389.56 260.51h8.59v8.59h-8.59zM432.25 260.51h8.59v8.59h-8.59zM534.70 260.51h8.59v8.59h-8.59zM398.10 269.04h8.59v8.59h-8.59zM440.79 269.04h8.59v8.59h-8.59zM82.19 277.58h8.59v8.59h-8.59zM90.73 277.58h8.59v8.59h-8.59zM124.88 277.58h8.59v8.59h-8.59zM141.96 277.58h8.59v8.59h-8.59zM150.49 277.58h8.59v8.59h-8.59zM184.65 277.58h8.59v8.59h-8.59zM261.49 277.58h8.59v8.59h-8.59zM389.56 277.58h8.59v8.59h-8.59zM432.25 277.58h8.59v8.59h-8.59zM82.19 286.12h8.59v8.59h-8.59zM124.88 286.12h8.59v8.59h-8.59zM133.42 286.12h8.59v8.59h-8.59zM141.96 286.12h8.59v8.59h-8.59zM389.56 286.12h8.59v8.59h-8.59zM398.10 286.12h8.59v8.59h-8.59zM73.65 294.66h8.59v8.59h-8.59zM82.19 294.66h8.59v8.59h-8.59zM141.96 294.66h8.59v8.59h-8.59zM124.88 303.20h8.59v8.59h-8.59zM133.42 303.20h8.59v8.59h-8.59zM141.96 303.20h8.59v8.59h-8.59zM184.65 303.20h8.59v8.59h-8.59zM534.70 303.20h8.59v8.59h-8.59zM193.18 311.73h8.59v8.59h-8.59zM474.94 311.73h8.59v8.59h-8.59zM483.48 311.73h8.59v8.59h-8.59zM492.01 311.73h8.59v8.59h-8.59zM500.55 311.73h8.59v8.59h-8.59zM534.70 311.73h8.59v8.59h-8.59zM141.96 320.27h8.59v8.59h-8.59zM184.65 320.27h8.59v8.59h-8.59zM193.18 320.27h8.59v8.59h-8.59zM244.41 320.27h8.59v8.59h-8.59zM252.95 320.27h8.59v8.59h-8.59zM432.25 320.27h8.59v8.59h-8.59zM492.01 320.27h8.59v8.59h-8.59zM500.55 320.27h8.59v8.59h-8.59zM90.73 328.81h8.59v8.59h-8.59zM193.18 328.81h8.59v8.59h-8.59zM329.79 328.81h8.59v8.59h-8.59zM363.94 328.81h8.59v8.59h-8.59zM201.72 337.35h8.59v8.59h-8.59zM210.26 337.35h8.59v8.59h-8.59zM312.72 337.35h8.59v8.59h-8.59zM321.25 337.35h8.59v8.59h-8.59zM346.87 337.35h8.59v8.59h-8.59zM423.71 337.35h8.59v8.59h-8.59zM99.27 345.89h8.59v8.59h-8.59zM201.72 345.89h8.59v8.59h-8.59zM210.26 345.89h8.59v8.59h-8.59zM218.80 345.89h8.59v8.59h-8.59zM304.18 345.89h8.59v8.59h-8.59zM312.72 345.89h8.59v8.59h-8.59zM355.41 345.89h8.59v8.59h-8.59zM363.94 345.89h8.59v8.59h-8.59zM381.02 345.89h8.59v8.59h-8.59zM389.56 345.89h8.59v8.59h-8.59zM509.09 345.89h8.59v8.59h-8.59zM116.34 354.42h8.59v8.59h-8.59zM201.72 354.42h8.59v8.59h-8.59zM210.26 354.42h8.59v8.59h-8.59zM295.64 354.42h8.59v8.59h-8.59zM304.18 354.42h8.59v8.59h-8.59zM389.56 354.42h8.59v8.59h-8.59zM398.10 354.42h8.59v8.59h-8.59zM534.70 354.42h8.59v8.59h-8.59zM99.27 362.96h8.59v8.59h-8.59zM107.80 362.96h8.59v8.59h-8.59zM116.34 362.96h8.59v8.59h-8.59zM201.72 362.96h8.59v8.59h-8.59zM278.56 362.96h8.59v8.59h-8.59zM457.86 362.96h8.59v8.59h-8.59zM534.70 362.96h8.59v8.59h-8.59z"/>
<path fill="#26c69e" d="M99.27 38.52h8.59v8.59h-8.59zM107.80 38.52h8.59v8.59h-8.59zM534.70 38.52h8.59v8.59h-8.59zM90.73 47.06h8.59v8.59h-8.59zM150.49 47.06h8.59v8.59h-8.59zM509.09 47.06h8.59v8.59h-8.59zM526.17 47.06h8.59v8.59h-8.59zM534.70 47.06h8.59v8.59h-8.59zM90.73 55.59h8.59v8.59h-8.59zM509.09 55.59h8.59v8.59h-8.59zM526.17 55.59h8.59v8.59h-8.59zM99.27 64.13h8.59v8.59h-8.59zM124.88 64.13h8.59v8.59h-8.59zM492.01 64.13h8.59v8.59h-8.59zM517.63 64.13h8.59v8.59h-8.59zM167.57 72.67h8.59v8.59h-8.59zM176.11 72.67h8.59v8.59h-8.59zM184.65 72.67h8.59v8.59h-8.59zM500.55 72.67h8.59v8.59h-8.59zM509.09 72.67h8.59v8.59h-8.59zM517.63 72.67h8.59v8.59h-8.59zM99.27 81.21h8.59v8.59h-8.59zM107.80 81.21h8.59v8.59h-8.59zM184.65 81.21h8.59v8.59h-8.59zM193.18 81.21h8.59v8.59h-8.59zM509.09 81.21h8.59v8.59h-8.59zM534.70 81.21h8.59v8.59h-8.59zM184.65 89.75h8.59v8.59h-8.59zM124.88 98.28h8.59v8.59h-8.59zM193.18 98.28h8.59v8.59h-8.59zM210.26 106.82h8.59v8.59h-8.59zM244.41 106.82h8.59v8.59h-8.59zM252.95 106.82h8.59v8.59h-8.59zM261.49 106.82h8.59v8.59h-8.59zM534.70 106.82h8.59v8.59h-8.59zM227.34 115.36h8.59v8.59h-8.59zM235.87 115.36h8.59v8.59h-8.59zM261.49 115.36h8.59v8.59h-8.59zM270.03 115.36h8.59v8.59h-8.59zM534.70 115.36h8.59v8.59h-8.59zM141.96 123.90h8.59v8.59h-8.59zM150.49 123.90h8.59v8.59h-8.59zM167.57 123.90h8.59v8.59h-8.59zM210.26 123.90h8.59v8.59h-8.59zM270.03 123.90h8.59v8.59h-8.59zM278.56 123.90h8.59v8.59h-8.59zM295.64 123.90h8.59v8.59h-8.59zM133.42 132.44h8.59v8.59h-8.59zM141.96 132.44h8.59v8.59h-8.59zM150.49 132.44h8.59v8.59h-8.59zM159.03 132.44h8.59v8.59h-8.59zM210.26 132.44h8.59v8.59h-8.59zM270.03 132.44h8.59v8.59h-8.59zM278.56 132.44h8.59v8.59h-8.59zM295.64 132.44h8.59v8.59h-8.59zM304.18 132.44h8.59v8.59h-8.59zM517.63 132.44h8.59v8.59h-8.59zM526.17 132.44h8.59v8.59h-8.59zM124.88 140.97h8.59v8.59h-8.59zM159.03 140.97h8.59v8.59h-8.59zM176.11 140.97h8.59v8.59h-8.59zM304.18 140.97h8.59v8.59h-8.59zM329.79 140.97h8.59v8.59h-8.59zM338.33 140.97h8.59v8.59h-8.59zM363.94 140.97h8.59v8.59h-8.59zM381.02 140.97h8.59v8.59h-8.59zM534.70 140.97h8.59v8.59h-8.59zM124.88 149.51h8.59v8.59h-8.59zM141.96 149.51h8.59v8.59h-8.59zM150.49 149.51h8.59v8.59h-8.59zM167.57 149.51h8.59v8.59h-8.59zM176.11 149.51h8.59v8.59h-8.59zM184.65 149.51h8.59v8.59h-8.59zM235.87 149.51h8.59v8.59h-8.59zM141.96 158.05h8.59v8.59h-8.59zM150.49 158.05h8.59v8.59h-8.59zM176.11 158.05h8.59v8.59h-8.59zM184.65 158.05h8.59v8.59h-8.59zM227.34 158.05h8.59v8.59h-8.59zM329.79 158.05h8.59v8.59h-8.59zM355.41 158.05h8.59v8.59h-8.59zM534.70 158.05h8.59v8.59h-8.59zM218.80 166.59h8.59v8.59h-8.59zM227.34 166.59h8.59v8.59h-8.59zM244.41 166.59h8.59v8.59h-8.59zM346.87 166.59h8.59v8.59h-8.59zM218.80 175.13h8.59v8.59h-8.59zM227.34 175.13h8.59v8.59h-8.59zM235.87 175.13h8.59v8.59h-8.59zM244.41 175.13h8.59v8.59h-8.59zM270.03 175.13h8.59v8.59h-8.59zM312.72 175.13h8.59v8.59h-8.59zM509.09 175.13h8.59v8.59h-8.59zM517.63 175.13h8.59v8.59h-8.59zM141.96 183.66h8.59v8.59h-8.59zM193.18 183.66h8.59v8.59h-8.59zM201.72 183.66h8.59v8.59h-8.59zM235.87 183.66h8.59v8.59h-8.59zM287.10 183.66h8.59v8.59h-8.59zM329.79 183.66h8.59v8.59h-8.59zM338.33 183.66h8.59v8.59h-8.59zM372.48 183.66h8.59v8.59h-8.59zM509.09 183.66h8.59v8.59h-8.59zM141.96 192.20h8.59v8.59h-8.59zM193.18 192.20h8.59v8.59h-8.59zM278.56 192.20h8.59v8.59h-8.59zM287.10 192.20h8.59v8.59h-8.59zM406.63 192.20h8.59v8.59h-8.59zM509.09 192.20h8.59v8.59h-8.59zM159.03 200.74h8.59v8.59h-8.59zM184.65 200.74h8.59v8.59h-8.59zM193.18 200.74h8.59v8.59h-8.59zM270.03 200.74h8.59v8.59h-8.59zM278.56 200.74h8.59v8.59h-8.59zM287.10 200.74h8.59v8.59h-8.59zM415.17 200.74h8.59v8.59h-8.59zM193.18 209.28h8.59v8.59h-8.59zM270.03 209.28h8.59v8.59h-8.59zM398.10 209.28h8.59v8.59h-8.59zM423.71 209.28h8.59v8.59h-8.59zM509.09 209.28h8.59v8.59h-8.59zM90.73 217.82h8.59v8.59h-8.59zM167.57 217.82h8.59v8.59h-8.59zM346.87 217.82h8.59v8.59h-8.59zM372.48 217.82h8.59v8.59h-8.59zM509.09 217.82h8.59v8.59h-8.59zM65.11 226.35h8.59v8.59h-8.59zM73.65 226.35h8.59v8.59h-8.59zM90.73 226.35h8.59v8.59h-8.59zM167.57 226.35h8.59v8.59h-8.59zM355.41 226.35h8.59v8.59h-8.59zM474.94 226.35h8.59v8.59h-8.59zM483.48 226.35h8.59v8.59h-8.59zM56.58 234.89h8.59v8.59h-8.59zM65.11 234.89h8.59v8.59h-8.59zM73.65 234.89h8.59v8.59h-8.59zM82.19 234.89h8.59v8.59h-8.59zM90.73 234.89h8.59v8.59h-8.59zM167.57 234.89h8.59v8.59h-8.59zM176.11 234.89h8.59v8.59h-8.59zM355.41 234.89h8.59v8.59h-8.59zM415.17 234.89h8.59v8.59h-8.59zM483.48 234.89h8.59v8.59h-8.59zM73.65 243.43h8.59v8.59h-8.59zM82.19 243.43h8.59v8.59h-8.59zM99.27 243.43h8.59v8.59h-8.59zM124.88 243.43h8.59v8.59h-8.59zM133.42 243.43h8.59v8.59h-8.59zM141.96 243.43h8.59v8.59h-8.59zM167.57 243.43h8.59v8.59h-8.59zM235.87 243.43h8.59v8.59h-8.59zM252.95 243.43h8.59v8.59h-8.59zM338.33 243.43h8.59v8.59h-8.59zM346.87 243.43h8.59v8.59h-8.59zM355.41 243.43h8.59v8.59h-8.59zM363.94 243.43h8.59v8.59h-8.59zM389.56 243.43h8.59v8.59h-8.59zM398.10 243.43h8.59v8.59h-8.59zM423.71 243.43h8.59v8.59h-8.59zM474.94 243.43h8.59v8.59h-8.59zM99.27 251.97h8.59v8.59h-8.59zM107.80 251.97h8.59v8.59h-8.59zM116.34 251.97h8.59v8.59h-8.59zM133.42 251.97h8.59v8.59h-8.59zM141.96 251.97h8.59v8.59h-8.59zM244.41 251.97h8.59v8.59h-8.59zM252.95 251.97h8.59v8.59h-8.59zM295.64 251.97h8.59v8.59h-8.59zM304.18 251.97h8.59v8.59h-8.59zM398.10 251.97h8.59v8.59h-8.59zM432.25 251.97h8.59v8.59h-8.59zM474.94 251.97h8.59v8.59h-8.59zM483.48 251.97h8.59v8.59h-8.59zM500.55 251.97h8.59v8.59h-8.59zM124.88 260.51h8.59v8.59h-8.59zM133.42 260.51h8.59v8.59h-8.59zM278.56 260.51h8.59v8.59h-8.59zM295.64 260.51h8.59v8.59h-8.59zM329.79 260.51h8.59v8.59h-8.59zM381.02 260.51h8.59v8.59h-8.59zM398.10 260.51h8.59v8.59h-8.59zM107.80 269.04h8.59v8.59h-8.59zM116.34 269.04h8.59v8.59h-8.59zM124.88 269.04h8.59v8.59h-8.59zM133.42 269.04h8.59v8.59h-8.59zM141.96 269.04h8.59v8.59h-8.59zM321.25 269.04h8.59v8.59h-8.59zM389.56 269.04h8.59v8.59h-8.59zM432.25 269.04h8.59v8.59h-8.59zM449.32 269.04h8.59v8.59h-8.59zM270.03 277.58h8.59v8.59h-8.59zM372.48 277.58h8.59v8.59h-8.59zM381.02 277.58h8.59v8.59h-8.59zM406.63 277.58h8.59v8.59h-8.59zM90.73 286.12h8.59v8.59h-8.59zM99.27 286.12h8.59v8.59h-8.59zM107.80 286.12h8.59v8.59h-8.59zM116.34 286.12h8.59v8.59h-8.59zM270.03 286.12h8.59v8.59h-8.59zM363.94 286.12h8.59v8.59h-8.59zM372.48 286.12h8.59v8.59h-8.59zM381.02 286.12h8.59v8.59h-8.59zM432.25 286.12h8.59v8.59h-8.59zM440.79 286.12h8.59v8.59h-8.59zM90.73 294.66h8.59v8.59h-8.59zM99.27 294.66h8.59v8.59h-8.59zM107.80 294.66h8.59v8.59h-8.59zM116.34 294.66h8.59v8.59h-8.59zM124.88 294.66h8.59v8.59h-8.59zM133.42 294.66h8.59v8.59h-8.59zM184.65 294.66h8.59v8.59h-8.59zM287.10 294.66h8.59v8.59h-8.59zM338.33 294.66h8.59v8.59h-8.59zM346.87 294.66h8.59v8.59h-8.59zM389.56 294.66h8.59v8.59h-8.59zM398.10 294.66h8.59v8.59h-8.59zM423.71 294.66h8.59v8.59h-8.59zM432.25 294.66h8.59v8.59h-8.59zM193.18 303.20h8.59v8.59h-8.59zM201.72 303.20h8.59v8.59h-8.59zM210.26 303.20h8.59v8.59h-8.59zM218.80 303.20h8.59v8.59h-8.59zM252.95 303.20h8.59v8.59h-8.59zM329.79 303.20h8.59v8.59h-8.59zM338.33 303.20h8.59v8.59h-8.59zM372.48 303.20h8.59v8.59h-8.59zM389.56 303.20h8.59v8.59h-8.59zM423.71 303.20h8.59v8.59h-8.59zM432.25 303.20h8.59v8.59h-8.59zM449.32 303.20h8.59v8.59h-8.59zM201.72 311.73h8.59v8.59h-8.59zM210.26 311.73h8.59v8.59h-8.59zM261.49 311.73h8.59v8.59h-8.59zM363.94 311.73h8.59v8.59h-8.59zM381.02 311.73h8.59v8.59h-8.59zM415.17 311.73h8.59v8.59h-8.59zM423.71 311.73h8.59v8.59h-8.59zM432.25 311.73h8.59v8.59h-8.59zM449.32 311.73h8.59v8.59h-8.59zM509.09 311.73h8.59v8.59h-8.59zM517.63 311.73h8.59v8.59h-8.59zM526.17 311.73h8.59v8.59h-8.59zM90.73 320.27h8.59v8.59h-8.59zM99.27 320.27h8.59v8.59h-8.59zM107.80 320.27h8.59v8.59h-8.59zM423.71 320.27h8.59v8.59h-8.59zM440.79 320.27h8.59v8.59h-8.59zM509.09 320.27h8.59v8.59h-8.59zM534.70 320.27h8.59v8.59h-8.59zM99.27 328.81h8.59v8.59h-8.59zM107.80 328.81h8.59v8.59h-8.59zM201.72 328.81h8.59v8.59h-8.59zM227.34 328.81h8.59v8.59h-8.59zM312.72 328.81h8.59v8.59h-8.59zM321.25 328.81h8.59v8.59h-8.59zM338.33 328.81h8.59v8.59h-8.59zM346.87 328.81h8.59v8.59h-8.59zM423.71 328.81h8.59v8.59h-8.59zM449.32 328.81h8.59v8.59h-8.59zM509.09 328.81h8.59v8.59h-8.59zM534.70 328.81h8.59v8.59h-8.59zM90.73 337.35h8.59v8.59h-8.59zM99.27 337.35h8.59v8.59h-8.59zM116.34 337.35h8.59v8.59h-8.59zM218.80 337.35h8.59v8.59h-8.59zM295.64 337.35h8.59v8.59h-8.59zM304.18 337.35h8.59v8.59h-8.59zM329.79 337.35h8.59v8.59h-8.59zM338.33 337.35h8.59v8.59h-8.59zM355.41 337.35h8.59v8.59h-8.59zM363.94 337.35h8.59v8.59h-8.59zM389.56 337.35h8.59v8.59h-8.59zM415.17 337.35h8.59v8.59h-8.59zM432.25 337.35h8.59v8.59h-8.59zM440.79 337.35h8.59v8.59h-8.59zM449.32 337.35h8.59v8.59h-8.59zM534.70 337.35h8.59v8.59h-8.59zM107.80 345.89h8.59v8.59h-8.59zM116.34 345.89h8.59v8.59h-8.59zM252.95 345.89h8.59v8.59h-8.59zM261.49 345.89h8.59v8.59h-8.59zM295.64 345.89h8.59v8.59h-8.59zM398.10 345.89h8.59v8.59h-8.59zM406.63 345.89h8.59v8.59h-8.59zM415.17 345.89h8.59v8.59h-8.59zM423.71 345.89h8.59v8.59h-8.59zM432.25 345.89h8.59v8.59h-8.59zM440.79 345.89h8.59v8.59h-8.59zM517.63 345.89h8.59v8.59h-8.59zM526.17 345.89h8.59v8.59h-8.59zM534.70 345.89h8.59v8.59h-8.59zM107.80 354.42h8.59v8.59h-8.59zM278.56 354.42h8.59v8.59h-8.59zM406.63 354.42h8.59v8.59h-8.59zM415.17 354.42h8.59v8.59h-8.59zM509.09 354.42h8.59v8.59h-8.59zM517.63 354.42h8.59v8.59h-8.59zM526.17 354.42h8.59v8.59h-8.59zM270.03 362.96h8.59v8.59h-8.59zM406.63 362.96h8.59v8.59h-8.59zM415.17 362.96h8.59v8.59h-8.59zM423.71 362.96h8.59v8.59h-8.59zM449.32 362.96h8.59v8.59h-8.59zM526.17 362.96h8.59v8.59h-8.59z"/>
<path fill="#fdbe30" d="M116.34 38.52h8.59v8.59h-8.59zM107.80 47.06h8.59v8.59h-8.59zM116.34 47.06h8.59v8.59h-8.59zM124.88 47.06h8.59v8.59h-8.59zM124.88 55.59h8.59v8.59h-8.59zM133.42 64.13h8.59v8.59h-8.59zM141.96 64.13h8.59v8.59h-8.59zM150.49 64.13h8.59v8.59h-8.59zM159.03 64.13h8.59v8.59h-8.59zM534.70 64.13h8.59v8.59h-8.59zM141.96 72.67h8.59v8.59h-8.59zM150.49 72.67h8.59v8.59h-8.59zM159.03 72.67h8.59v8.59h-8.59zM141.96 81.21h8.59v8.59h-8.59zM150.49 81.21h8.59v8.59h-8.59zM159.03 81.21h8.59v8.59h-8.59zM141.96 89.75h8.59v8.59h-8.59zM150.49 89.75h8.59v8.59h-8.59zM141.96 98.28h8.59v8.59h-8.59zM159.03 98.28h8.59v8.59h-8.59zM150.49 106.82h8.59v8.59h-8.59zM159.03 106.82h8.59v8.59h-8.59zM167.57 106.82h8.59v8.59h-8.59zM176.11 106.82h8.59v8.59h-8.59zM184.65 106.82h8.59v8.59h-8.59zM193.18 115.36h8.59v8.59h-8.59zM201.72 115.36h8.59v8.59h-8.59zM210.26 115.36h8.59v8.59h-8.59zM184.65 123.90h8.59v8.59h-8.59zM193.18 123.90h8.59v8.59h-8.59zM235.87 123.90h8.59v8.59h-8.59zM244.41 123.90h8.59v8.59h-8.59zM252.95 123.90h8.59v8.59h-8.59zM193.18 132.44h8.59v8.59h-8.59zM227.34 132.44h8.59v8.59h-8.59zM235.87 132.44h8.59v8.59h-8.59zM244.41 132.44h8.59v8.59h-8.59zM252.95 132.44h8.59v8.59h-8.59zM261.49 132.44h8.59v8.59h-8.59zM244.41 140.97h8.59v8.59h-8.59zM346.87 140.97h8.59v8.59h-8.59zM270.03 149.51h8.59v8.59h-8.59zM346.87 149.51h8.59v8.59h-8.59zM355.41 149.51h8.59v8.59h-8.59zM270.03 158.05h8.59v8.59h-8.59zM278.56 158.05h8.59v8.59h-8.59zM338.33 158.05h8.59v8.59h-8.59zM346.87 158.05h8.59v8.59h-8.59zM270.03 166.59h8.59v8.59h-8.59zM278.56 166.59h8.59v8.59h-8.59zM338.33 166.59h8.59v8.59h-8.59zM167.57 175.13h8.59v8.59h-8.59zM176.11 175.13h8.59v8.59h-8.59zM252.95 175.13h8.59v8.59h-8.59zM150.49 183.66h8.59v8.59h-8.59zM159.03 183.66h8.59v8.59h-8.59zM176.11 183.66h8.59v8.59h-8.59zM218.80 183.66h8.59v8.59h-8.59zM244.41 183.66h8.59v8.59h-8.59zM252.95 183.66h8.59v8.59h-8.59zM261.49 183.66h8.59v8.59h-8.59zM270.03 183.66h8.59v8.59h-8.59zM355.41 183.66h8.59v8.59h-8.59zM363.94 183.66h8.59v8.59h-8.59zM150.49 192.20h8.59v8.59h-8.59zM201.72 192.20h8.59v8.59h-8.59zM210.26 192.20h8.59v8.59h-8.59zM218.80 192.20h8.59v8.59h-8.59zM235.87 192.20h8.59v8.59h-8.59zM244.41 192.20h8.59v8.59h-8.59zM252.95 192.20h8.59v8.59h-8.59zM261.49 192.20h8.59v8.59h-8.59zM270.03 192.20h8.59v8.59h-8.59zM329.79 192.20h8.59v8.59h-8.59zM355.41 192.20h8.59v8.59h-8.59zM363.94 192.20h8.59v8.59h-8.59zM201.72 200.74h8.59v8.59h-8.59zM210.26 200.74h8.59v8.59h-8.59zM227.34 200.74h8.59v8.59h-8.59zM235.87 200.74h8.59v8.59h-8.59zM244.41 200.74h8.59v8.59h-8.59zM252.95 200.74h8.59v8.59h-8.59zM295.64 200.74h8.59v8.59h-8.59zM304.18 200.74h8.59v8.59h-8.59zM312.72 200.74h8.59v8.59h-8.59zM321.25 200.74h8.59v8.59h-8.59zM329.79 200.74h8.59v8.59h-8.59zM346.87 200.74h8.59v8.59h-8.59zM355.41 200.74h8.59v8.59h-8.59zM381.02 200.74h8.59v8.59h-8.59zM389.56 200.74h8.59v8.59h-8.59zM398.10 200.74h8.59v8.59h-8.59zM406.63 200.74h8.59v8.59h-8.59zM201.72 209.28h8.59v8.59h-8.59zM227.34 209.28h8.59v8.59h-8.59zM235.87 209.28h8.59v8.59h-8.59zM244.41 209.28h8.59v8.59h-8.59zM252.95 209.28h8.59v8.59h-8.59zM261.49 209.28h8.59v8.59h-8.59zM295.64 209.28h8.59v8.59h-8.59zM304.18 209.28h8.59v8.59h-8.59zM312.72 209.28h8.59v8.59h-8.59zM321.25 209.28h8.59v8.59h-8.59zM329.79 209.28h8.59v8.59h-8.59zM338.33 209.28h8.59v8.59h-8.59zM346.87 209.28h8.59v8.59h-8.59zM381.02 209.28h8.59v8.59h-8.59zM389.56 209.28h8.59v8.59h-8.59zM406.63 209.28h8.59v8.59h-8.59zM415.17 209.28h8.59v8.59h-8.59zM218.80 217.82h8.59v8.59h-8.59zM227.34 217.82h8.59v8.59h-8.59zM235.87 217.82h8.59v8.59h-8.59zM244.41 217.82h8.59v8.59h-8.59zM261.49 217.82h8.59v8.59h-8.59zM270.03 217.82h8.59v8.59h-8.59zM278.56 217.82h8.59v8.59h-8.59zM287.10 217.82h8.59v8.59h-8.59zM312.72 217.82h8.59v8.59h-8.59zM321.25 217.82h8.59v8.59h-8.59zM329.79 217.82h8.59v8.59h-8.59zM338.33 217.82h8.59v8.59h-8.59zM381.02 217.82h8.59v8.59h-8.59zM389.56 217.82h8.59v8.59h-8.59zM398.10 217.82h8.59v8.59h-8.59zM406.63 217.82h8.59v8.59h-8.59zM415.17 217.82h8.59v8.59h-8.59zM201.72 226.35h8.59v8.59h-8.59zM210.26 226.35h8.59v8.59h-8.59zM218.80 226.35h8.59v8.59h-8.59zM227.34 226.35h8.59v8.59h-8.59zM235.87 226.35h8.59v8.59h-8.59zM244.41 226.35h8.59v8.59h-8.59zM252.95 226.35h8.59v8.59h-8.59zM261.49 226.35h8.59v8.59h-8.59zM270.03 226.35h8.59v8.59h-8.59zM278.56 226.35h8.59v8.59h-8.59zM287.10 226.35h8.59v8.59h-8.59zM312.72 226.35h8.59v8.59h-8.59zM321.25 226.35h8.59v8.59h-8.59zM329.79 226.35h8.59v8.59h-8.59zM389.56 226.35h8.59v8.59h-8.59zM398.10 226.35h8.59v8.59h-8.59zM406.63 226.35h8.59v8.59h-8.59zM415.17 226.35h8.59v8.59h-8.59zM193.18 234.89h8.59v8.59h-8.59zM201.72 234.89h8.59v8.59h-8.59zM227.34 234.89h8.59v8.59h-8.59zM235.87 234.89h8.59v8.59h-8.59zM244.41 234.89h8.59v8.59h-8.59zM261.49 234.89h8.59v8.59h-8.59zM270.03 234.89h8.59v8.59h-8.59zM278.56 234.89h8.59v8.59h-8.59zM287.10 234.89h8.59v8.59h-8.59zM321.25 234.89h8.59v8.59h-8.59zM372.48 234.89h8.59v8.59h-8.59zM398.10 234.89h8.59v8.59h-8.59zM406.63 234.89h8.59v8.59h-8.59zM193.18 243.43h8.59v8.59h-8.59zM201.72 243.43h8.59v8.59h-8.59zM261.49 243.43h8.59v8.59h-8.59zM278.56 243.43h8.59v8.59h-8.59zM287.10 243.43h8.59v8.59h-8.59zM295.64 243.43h8.59v8.59h-8.59zM312.72 243.43h8.59v8.59h-8.59zM381.02 243.43h8.59v8.59h-8.59zM201.72 251.97h8.59v8.59h-8.59zM261.49 251.97h8.59v8.59h-8.59zM278.56 251.97h8.59v8.59h-8.59zM287.10 251.97h8.59v8.59h-8.59zM312.72 251.97h8.59v8.59h-8.59zM338.33 251.97h8.59v8.59h-8.59zM372.48 251.97h8.59v8.59h-8.59zM381.02 251.97h8.59v8.59h-8.59zM235.87 260.51h8.59v8.59h-8.59zM252.95 260.51h8.59v8.59h-8.59zM261.49 260.51h8.59v8.59h-8.59zM270.03 260.51h8.59v8.59h-8.59zM287.10 260.51h8.59v8.59h-8.59zM304.18 260.51h8.59v8.59h-8.59zM312.72 260.51h8.59v8.59h-8.59zM338.33 260.51h8.59v8.59h-8.59zM346.87 260.51h8.59v8.59h-8.59zM363.94 260.51h8.59v8.59h-8.59zM372.48 260.51h8.59v8.59h-8.59zM235.87 269.04h8.59v8.59h-8.59zM244.41 269.04h8.59v8.59h-8.59zM252.95 269.04h8.59v8.59h-8.59zM278.56 269.04h8.59v8.59h-8.59zM295.64 269.04h8.59v8.59h-8.59zM304.18 269.04h8.59v8.59h-8.59zM312.72 269.04h8.59v8.59h-8.59zM338.33 269.04h8.59v8.59h-8.59zM346.87 269.04h8.59v8.59h-8.59zM363.94 269.04h8.59v8.59h-8.59zM218.80 277.58h8.59v8.59h-8.59zM227.34 277.58h8.59v8.59h-8.59zM295.64 277.58h8.59v8.59h-8.59zM304.18 277.58h8.59v8.59h-8.59zM321.25 277.58h8.59v8.59h-8.59zM329.79 277.58h8.59v8.59h-8.59zM338.33 277.58h8.59v8.59h-8.59zM346.87 277.58h8.59v8.59h-8.59zM193.18 286.12h8.59v8.59h-8.59zM218.80 286.12h8.59v8.59h-8.59zM235.87 286.12h8.59v8.59h-8.59zM244.41 286.12h8.59v8.59h-8.59zM252.95 286.12h8.59v8.59h-8.59zM295.64 286.12h8.59v8.59h-8.59zM304.18 286.12h8.59v8.59h-8.59zM312.72 286.12h8.59v8.59h-8.59zM329.79 286.12h8.59v8.59h-8.59zM338.33 286.12h8.59v8.59h-8.59zM261.49 294.66h8.59v8.59h-8.59zM270.03 294.66h8.59v8.59h-8.59zM304.18 294.66h8.59v8.59h-8.59zM312.72 294.66h8.59v8.59h-8.59zM321.25 294.66h8.59v8.59h-8.59zM381.02 294.66h8.59v8.59h-8.59zM270.03 303.20h8.59v8.59h-8.59zM287.10 303.20h8.59v8.59h-8.59zM295.64 303.20h8.59v8.59h-8.59zM304.18 303.20h8.59v8.59h-8.59zM321.25 303.20h8.59v8.59h-8.59zM346.87 303.20h8.59v8.59h-8.59zM381.02 303.20h8.59v8.59h-8.59zM278.56 311.73h8.59v8.59h-8.59zM287.10 311.73h8.59v8.59h-8.59zM304.18 311.73h8.59v8.59h-8.59zM312.72 311.73h8.59v8.59h-8.59zM321.25 311.73h8.59v8.59h-8.59zM329.79 311.73h8.59v8.59h-8.59zM338.33 311.73h8.59v8.59h-8.59zM346.87 311.73h8.59v8.59h-8.59zM355.41 311.73h8.59v8.59h-8.59zM389.56 311.73h8.59v8.59h-8.59zM398.10 311.73h8.59v8.59h-8.59zM287.10 320.27h8.59v8.59h-8.59zM295.64 320.27h8.59v8.59h-8.59zM304.18 320.27h8.59v8.59h-8.59zM321.25 320.27h8.59v8.59h-8.59zM329.79 320.27h8.59v8.59h-8.59zM355.41 320.27h8.59v8.59h-8.59zM389.56 320.27h8.59v8.59h-8.59zM398.10 320.27h8.59v8.59h-8.59zM406.63 320.27h8.59v8.59h-8.59zM474.94 320.27h8.59v8.59h-8.59zM244.41 328.81h8.59v8.59h-8.59zM278.56 328.81h8.59v8.59h-8.59zM287.10 328.81h8.59v8.59h-8.59zM295.64 328.81h8.59v8.59h-8.59zM304.18 328.81h8.59v8.59h-8.59zM398.10 328.81h8.59v8.59h-8.59zM406.63 328.81h8.59v8.59h-8.59zM474.94 328.81h8.59v8.59h-8.59zM244.41 337.35h8.59v8.59h-8.59zM252.95 337.35h8.59v8.59h-8.59zM278.56 337.35h8.59v8.59h-8.59zM457.86 337.35h8.59v8.59h-8.59zM474.94 337.35h8.59v8.59h-8.59zM492.01 337.35h8.59v8.59h-8.59zM500.55 337.35h8.59v8.59h-8.59zM278.56 345.89h8.59v8.59h-8.59zM457.86 345.89h8.59v8.59h-8.59zM466.40 345.89h8.59v8.59h-8.59zM474.94 345.89h8.59v8.59h-8.59zM483.48 345.89h8.59v8.59h-8.59zM466.40 354.42h8.59v8.59h-8.59zM474.94 354.42h8.59v8.59h-8.59zM432.25 362.96h8.59v8.59h-8.59zM483.48 362.96h8.59v8.59h-8.59zM492.01 362.96h8.59v8.59h-8.59zM500.55 362.96h8.59v8.59h-8.59zM509.09 362.96h8.59v8.59h-8.59zM517.63 362.96h8.59v8.59h-8.59z"/>
<path fill="#50c97d" d="M124.88 38.52h8.59v8.59h-8.59zM99.27 55.59h8.59v8.59h-8.59zM150.49 55.59h8.59v8.59h-8.59zM167.57 64.13h8.59v8.59h-8.59zM99.27 72.67h8.59v8.59h-8.59zM176.11 81.21h8.59v8.59h-8.59zM133.42 98.28h8.59v8.59h-8.59zM534.70 98.28h8.59v8.59h-8.59zM295.64 140.97h8.59v8.59h-8.59zM295.64 149.51h8.59v8.59h-8.59zM304.18 149.51h8.59v8.59h-8.59zM338.33 149.51h8.59v8.59h-8.59zM346.87 183.66h8.59v8.59h-8.59zM82.19 226.35h8.59v8.59h-8.59zM176.11 226.35h8.59v8.59h-8.59zM474.94 234.89h8.59v8.59h-8.59zM227.34 251.97h8.59v8.59h-8.59zM107.80 260.51h8.59v8.59h-8.59zM116.34 260.51h8.59v8.59h-8.59zM227.34 260.51h8.59v8.59h-8.59zM244.41 260.51h8.59v8.59h-8.59zM500.55 260.51h8.59v8.59h-8.59zM381.02 269.04h8.59v8.59h-8.59zM227.34 294.66h8.59v8.59h-8.59zM329.79 294.66h8.59v8.59h-8.59zM372.48 294.66h8.59v8.59h-8.59zM235.87 303.20h8.59v8.59h-8.59zM261.49 303.20h8.59v8.59h-8.59zM218.80 311.73h8.59v8.59h-8.59zM227.34 311.73h8.59v8.59h-8.59zM406.63 311.73h8.59v8.59h-8.59zM440.79 311.73h8.59v8.59h-8.59zM201.72 320.27h8.59v8.59h-8.59zM270.03 320.27h8.59v8.59h-8.59zM415.17 320.27h8.59v8.59h-8.59zM449.32 320.27h8.59v8.59h-8.59zM218.80 328.81h8.59v8.59h-8.59zM355.41 328.81h8.59v8.59h-8.59zM415.17 328.81h8.59v8.59h-8.59zM492.01 328.81h8.59v8.59h-8.59zM500.55 328.81h8.59v8.59h-8.59zM107.80 337.35h8.59v8.59h-8.59zM261.49 337.35h8.59v8.59h-8.59zM235.87 345.89h8.59v8.59h-8.59zM244.41 345.89h8.59v8.59h-8.59zM423.71 354.42h8.59v8.59h-8.59zM449.32 354.42h8.59v8.59h-8.59z"/>
<path fill="#17a0e4" d="M141.96 38.52h8.59v8.59h-8.59zM82.19 47.06h8.59v8.59h-8.59zM82.19 55.59h8.59v8.59h-8.59zM167.57 55.59h8.59v8.59h-8.59zM82.19 64.13h8.59v8.59h-8.59zM218.80 81.21h8.59v8.59h-8.59zM252.95 81.21h8.59v8.59h-8.59zM90.73 89.75h8.59v8.59h-8.59zM227.34 89.75h8.59v8.59h-8.59zM261.49 89.75h8.59v8.59h-8.59zM90.73 98.28h8.59v8.59h-8.59zM270.03 98.28h8.59v8.59h-8.59zM500.55 98.28h8.59v8.59h-8.59zM509.09 98.28h8.59v8.59h-8.59zM116.34 106.82h8.59v8.59h-8.59zM287.10 106.82h8.59v8.59h-8.59zM517.63 106.82h8.59v8.59h-8.59zM124.88 115.36h8.59v8.59h-8.59zM355.41 115.36h8.59v8.59h-8.59zM363.94 115.36h8.59v8.59h-8.59zM372.48 115.36h8.59v8.59h-8.59zM517.63 115.36h8.59v8.59h-8.59zM124.88 123.90h8.59v8.59h-8.59zM321.25 123.90h8.59v8.59h-8.59zM329.79 123.90h8.59v8.59h-8.59zM338.33 123.90h8.59v8.59h-8.59zM346.87 123.90h8.59v8.59h-8.59zM355.41 123.90h8.59v8.59h-8.59zM363.94 123.90h8.59v8.59h-8.59zM372.48 123.90h8.59v8.59h-8.59zM381.02 132.44h8.59v8.59h-8.59zM389.56 132.44h8.59v8.59h-8.59zM116.34 140.97h8.59v8.59h-8.59zM116.34 149.51h8.59v8.59h-8.59zM509.09 149.51h8.59v8.59h-8.59zM432.25 158.05h8.59v8.59h-8.59zM517.63 158.05h8.59v8.59h-8.59zM39.50 166.59h8.59v8.59h-8.59zM116.34 166.59h8.59v8.59h-8.59zM432.25 166.59h8.59v8.59h-8.59zM509.09 166.59h8.59v8.59h-8.59zM517.63 166.59h8.59v8.59h-8.59zM39.50 175.13h8.59v8.59h-8.59zM116.34 175.13h8.59v8.59h-8.59zM124.88 175.13h8.59v8.59h-8.59zM423.71 175.13h8.59v8.59h-8.59zM534.70 175.13h8.59v8.59h-8.59zM39.50 183.66h8.59v8.59h-8.59zM124.88 183.66h8.59v8.59h-8.59zM304.18 183.66h8.59v8.59h-8.59zM312.72 183.66h8.59v8.59h-8.59zM432.25 183.66h8.59v8.59h-8.59zM440.79 183.66h8.59v8.59h-8.59zM534.70 183.66h8.59v8.59h-8.59zM39.50 192.20h8.59v8.59h-8.59zM133.42 192.20h8.59v8.59h-8.59zM304.18 192.20h8.59v8.59h-8.59zM312.72 192.20h8.59v8.59h-8.59zM432.25 192.20h8.59v8.59h-8.59zM449.32 192.20h8.59v8.59h-8.59zM474.94 192.20h8.59v8.59h-8.59zM483.48 192.20h8.59v8.59h-8.59zM500.55 192.20h8.59v8.59h-8.59zM526.17 192.20h8.59v8.59h-8.59zM39.50 200.74h8.59v8.59h-8.59zM449.32 200.74h8.59v8.59h-8.59zM517.63 200.74h8.59v8.59h-8.59zM526.17 200.74h8.59v8.59h-8.59zM534.70 200.74h8.59v8.59h-8.59zM39.50 209.28h8.59v8.59h-8.59zM65.11 209.28h8.59v8.59h-8.59zM73.65 209.28h8.59v8.59h-8.59zM82.19 209.28h8.59v8.59h-8.59zM449.32 209.28h8.59v8.59h-8.59zM457.86 209.28h8.59v8.59h-8.59zM474.94 209.28h8.59v8.59h-8.59zM483.48 209.28h8.59v8.59h-8.59zM492.01 209.28h8.59v8.59h-8.59zM500.55 209.28h8.59v8.59h-8.59zM526.17 209.28h8.59v8.59h-8.59zM534.70 209.28h8.59v8.59h-8.59zM48.04 217.82h8.59v8.59h-8.59zM457.86 217.82h8.59v8.59h-8.59zM466.40 217.82h8.59v8.59h-8.59zM474.94 217.82h8.59v8.59h-8.59zM492.01 217.82h8.59v8.59h-8.59zM500.55 217.82h8.59v8.59h-8.59zM526.17 217.82h8.59v8.59h-8.59zM534.70 217.82h8.59v8.59h-8.59zM107.80 226.35h8.59v8.59h-8.59zM432.25 226.35h8.59v8.59h-8.59zM440.79 226.35h8.59v8.59h-8.59zM466.40 226.35h8.59v8.59h-8.59zM517.63 226.35h8.59v8.59h-8.59zM526.17 226.35h8.59v8.59h-8.59zM534.70 226.35h8.59v8.59h-8.59zM116.34 234.89h8.59v8.59h-8.59zM124.88 234.89h8.59v8.59h-8.59zM133.42 234.89h8.59v8.59h-8.59zM159.03 234.89h8.59v8.59h-8.59zM457.86 234.89h8.59v8.59h-8.59zM466.40 234.89h8.59v8.59h-8.59zM526.17 234.89h8.59v8.59h-8.59zM56.58 243.43h8.59v8.59h-8.59zM440.79 243.43h8.59v8.59h-8.59zM466.40 243.43h8.59v8.59h-8.59zM526.17 243.43h8.59v8.59h-8.59zM150.49 251.97h8.59v8.59h-8.59zM457.86 251.97h8.59v8.59h-8.59zM466.40 251.97h8.59v8.59h-8.59zM184.65 260.51h8.59v8.59h-8.59zM193.18 260.51h8.59v8.59h-8.59zM210.26 260.51h8.59v8.59h-8.59zM466.40 260.51h8.59v8.59h-8.59zM90.73 269.04h8.59v8.59h-8.59zM159.03 269.04h8.59v8.59h-8.59zM167.57 269.04h8.59v8.59h-8.59zM457.86 269.04h8.59v8.59h-8.59zM466.40 269.04h8.59v8.59h-8.59zM474.94 269.04h8.59v8.59h-8.59zM483.48 269.04h8.59v8.59h-8.59zM492.01 269.04h8.59v8.59h-8.59zM500.55 269.04h8.59v8.59h-8.59zM509.09 269.04h8.59v8.59h-8.59zM517.63 269.04h8.59v8.59h-8.59zM526.17 269.04h8.59v8.59h-8.59zM65.11 277.58h8.59v8.59h-8.59zM73.65 277.58h8.59v8.59h-8.59zM457.86 277.58h8.59v8.59h-8.59zM466.40 277.58h8.59v8.59h-8.59zM474.94 277.58h8.59v8.59h-8.59zM483.48 277.58h8.59v8.59h-8.59zM534.70 277.58h8.59v8.59h-8.59zM48.04 286.12h8.59v8.59h-8.59zM449.32 286.12h8.59v8.59h-8.59zM457.86 286.12h8.59v8.59h-8.59zM466.40 286.12h8.59v8.59h-8.59zM474.94 286.12h8.59v8.59h-8.59zM483.48 286.12h8.59v8.59h-8.59zM534.70 286.12h8.59v8.59h-8.59zM449.32 294.66h8.59v8.59h-8.59zM457.86 294.66h8.59v8.59h-8.59zM466.40 294.66h8.59v8.59h-8.59zM474.94 294.66h8.59v8.59h-8.59zM483.48 294.66h8.59v8.59h-8.59zM534.70 294.66h8.59v8.59h-8.59zM56.58 303.20h8.59v8.59h-8.59zM65.11 303.20h8.59v8.59h-8.59zM73.65 303.20h8.59v8.59h-8.59zM82.19 303.20h8.59v8.59h-8.59zM90.73 303.20h8.59v8.59h-8.59zM150.49 303.20h8.59v8.59h-8.59zM159.03 303.20h8.59v8.59h-8.59zM167.57 303.20h8.59v8.59h-8.59zM492.01 303.20h8.59v8.59h-8.59zM82.19 311.73h8.59v8.59h-8.59zM90.73 311.73h8.59v8.59h-8.59zM150.49 311.73h8.59v8.59h-8.59zM159.03 311.73h8.59v8.59h-8.59zM167.57 311.73h8.59v8.59h-8.59zM116.34 320.27h8.59v8.59h-8.59zM124.88 320.27h8.59v8.59h-8.59zM133.42 320.27h8.59v8.59h-8.59zM159.03 320.27h8.59v8.59h-8.59zM381.02 320.27h8.59v8.59h-8.59zM116.34 328.81h8.59v8.59h-8.59zM124.88 328.81h8.59v8.59h-8.59zM133.42 328.81h8.59v8.59h-8.59zM150.49 328.81h8.59v8.59h-8.59zM159.03 328.81h8.59v8.59h-8.59zM124.88 337.35h8.59v8.59h-8.59zM133.42 337.35h8.59v8.59h-8.59zM141.96 337.35h8.59v8.59h-8.59zM372.48 337.35h8.59v8.59h-8.59zM381.02 337.35h8.59v8.59h-8.59zM124.88 345.89h8.59v8.59h-8.59zM133.42 345.89h8.59v8.59h-8.59zM184.65 345.89h8.59v8.59h-8.59zM193.18 345.89h8.59v8.59h-8.59zM329.79 345.89h8.59v8.59h-8.59zM346.87 345.89h8.59v8.59h-8.59zM90.73 354.42h8.59v8.59h-8.59zM193.18 354.42h8.59v8.59h-8.59zM252.95 354.42h8.59v8.59h-8.59zM261.49 354.42h8.59v8.59h-8.59zM321.25 354.42h8.59v8.59h-8.59zM363.94 354.42h8.59v8.59h-8.59zM372.48 354.42h8.59v8.59h-8.59zM227.34 362.96h8.59v8.59h-8.59zM235.87 362.96h8.59v8.59h-8.59zM261.49 362.96h8.59v8.59h-8.59zM295.64 362.96h8.59v8.59h-8.59zM304.18 362.96h8.59v8.59h-8.59zM389.56 362.96h8.59v8.59h-8.59z"/>
<path fill="#483ae1" d="M184.65 38.52h8.59v8.59h-8.59zM193.18 38.52h8.59v8.59h-8.59zM201.72 38.52h8.59v8.59h-8.59zM210.26 38.52h8.59v8.59h-8.59zM235.87 38.52h8.59v8.59h-8.59zM244.41 38.52h8.59v8.59h-8.59zM252.95 38.52h8.59v8.59h-8.59zM278.56 38.52h8.59v8.59h-8.59zM287.10 38.52h8.59v8.59h-8.59zM295.64 38.52h8.59v8.59h-8.59zM355.41 38.52h8.59v8.59h-8.59zM363.94 38.52h8.59v8.59h-8.59zM372.48 38.52h8.59v8.59h-8.59zM381.02 38.52h8.59v8.59h-8.59zM389.56 38.52h8.59v8.59h-8.59zM398.10 38.52h8.59v8.59h-8.59zM406.63 38.52h8.59v8.59h-8.59zM415.17 38.52h8.59v8.59h-8.59zM423.71 38.52h8.59v8.59h-8.59zM432.25 38.52h8.59v8.59h-8.59zM440.79 38.52h8.59v8.59h-8.59zM457.86 38.52h8.59v8.59h-8.59zM466.40 38.52h8.59v8.59h-8.59zM474.94 38.52h8.59v8.59h-8.59zM483.48 38.52h8.59v8.59h-8.59zM210.26 47.06h8.59v8.59h-8.59zM218.80 47.06h8.59v8.59h-8.59zM227.34 47.06h8.59v8.59h-8.59zM235.87 47.06h8.59v8.59h-8.59zM261.49 47.06h8.59v8.59h-8.59zM270.03 47.06h8.59v8.59h-8.59zM278.56 47.06h8.59v8.59h-8.59zM287.10 47.06h8.59v8.59h-8.59zM355.41 47.06h8.59v8.59h-8.59zM363.94 47.06h8.59v8.59h-8.59zM372.48 47.06h8.59v8.59h-8.59zM389.56 47.06h8.59v8.59h-8.59zM406.63 47.06h8.59v8.59h-8.59zM432.25 47.06h8.59v8.59h-8.59zM440.79 47.06h8.59v8.59h-8.59zM449.32 47.06h8.59v8.59h-8.59zM457.86 47.06h8.59v8.59h-8.59zM466.40 47.06h8.59v8.59h-8.59zM39.50 55.59h8.59v8.59h-8.59zM48.04 55.59h8.59v8.59h-8.59zM355.41 55.59h8.59v8.59h-8.59zM372.48 55.59h8.59v8.59h-8.59zM406.63 55.59h8.59v8.59h-8.59zM415.17 55.59h8.59v8.59h-8.59zM423.71 55.59h8.59v8.59h-8.59zM432.25 55.59h8.59v8.59h-8.59zM449.32 55.59h8.59v8.59h-8.59zM457.86 55.59h8.59v8.59h-8.59zM466.40 55.59h8.59v8.59h-8.59zM346.87 64.13h8.59v8.59h-8.59zM355.41 64.13h8.59v8.59h-8.59zM363.94 64.13h8.59v8.59h-8.59zM372.48 64.13h8.59v8.59h-8.59zM398.10 64.13h8.59v8.59h-8.59zM406.63 64.13h8.59v8.59h-8.59zM415.17 64.13h8.59v8.59h-8.59zM423.71 64.13h8.59v8.59h-8.59zM432.25 64.13h8.59v8.59h-8.59zM440.79 64.13h8.59v8.59h-8.59zM449.32 64.13h8.59v8.59h-8.59zM457.86 64.13h8.59v8.59h-8.59zM466.40 64.13h8.59v8.59h-8.59zM48.04 72.67h8.59v8.59h-8.59zM338.33 72.67h8.59v8.59h-8.59zM346.87 72.67h8.59v8.59h-8.59zM355.41 72.67h8.59v8.59h-8.59zM363.94 72.67h8.59v8.59h-8.59zM415.17 72.67h8.59v8.59h-8.59zM423.71 72.67h8.59v8.59h-8.59zM449.32 72.67h8.59v8.59h-8.59zM457.86 72.67h8.59v8.59h-8.59zM466.40 72.67h8.59v8.59h-8.59zM39.50 81.21h8.59v8.59h-8.59zM48.04 81.21h8.59v8.59h-8.59zM346.87 81.21h8.59v8.59h-8.59zM48.04 89.75h8.59v8.59h-8.59zM39.50 98.28h8.59v8.59h-8.59zM65.11 123.90h8.59v8.59h-8.59zM73.65 123.90h8.59v8.59h-8.59zM73.65 132.44h8.59v8.59h-8.59zM73.65 140.97h8.59v8.59h-8.59zM39.50 286.12h8.59v8.59h-8.59zM39.50 294.66h8.59v8.59h-8.59zM39.50 337.35h8.59v8.59h-8.59zM48.04 337.35h8.59v8.59h-8.59zM39.50 345.89h8.59v8.59h-8.59zM48.04 345.89h8.59v8.59h-8.59zM39.50 354.42h8.59v8.59h-8.59zM48.04 354.42h8.59v8.59h-8.59zM56.58 354.42h8.59v8.59h-8.59zM39.50 362.96h8.59v8.59h-8.59zM48.04 362.96h8.59v8.59h-8.59zM65.11 362.96h8.59v8.59h-8.59z"/>
<path fill="#444eef" d="M304.18 38.52h8.59v8.59h-8.59zM312.72 38.52h8.59v8.59h-8.59zM321.25 38.52h8.59v8.59h-8.59zM329.79 38.52h8.59v8.59h-8.59zM338.33 38.52h8.59v8.59h-8.59zM346.87 38.52h8.59v8.59h-8.59zM449.32 38.52h8.59v8.59h-8.59zM492.01 38.52h8.59v8.59h-8.59zM48.04 47.06h8.59v8.59h-8.59zM193.18 47.06h8.59v8.59h-8.59zM201.72 47.06h8.59v8.59h-8.59zM244.41 47.06h8.59v8.59h-8.59zM252.95 47.06h8.59v8.59h-8.59zM295.64 47.06h8.59v8.59h-8.59zM304.18 47.06h8.59v8.59h-8.59zM338.33 47.06h8.59v8.59h-8.59zM415.17 47.06h8.59v8.59h-8.59zM423.71 47.06h8.59v8.59h-8.59zM474.94 47.06h8.59v8.59h-8.59zM56.58 55.59h8.59v8.59h-8.59zM252.95 55.59h8.59v8.59h-8.59zM261.49 55.59h8.59v8.59h-8.59zM270.03 55.59h8.59v8.59h-8.59zM278.56 55.59h8.59v8.59h-8.59zM287.10 55.59h8.59v8.59h-8.59zM346.87 55.59h8.59v8.59h-8.59zM398.10 55.59h8.59v8.59h-8.59zM440.79 55.59h8.59v8.59h-8.59zM474.94 55.59h8.59v8.59h-8.59zM287.10 64.13h8.59v8.59h-8.59zM338.33 64.13h8.59v8.59h-8.59zM474.94 64.13h8.59v8.59h-8.59zM56.58 72.67h8.59v8.59h-8.59zM287.10 72.67h8.59v8.59h-8.59zM372.48 72.67h8.59v8.59h-8.59zM398.10 72.67h8.59v8.59h-8.59zM406.63 72.67h8.59v8.59h-8.59zM440.79 72.67h8.59v8.59h-8.59zM474.94 72.67h8.59v8.59h-8.59zM56.58 81.21h8.59v8.59h-8.59zM338.33 81.21h8.59v8.59h-8.59zM398.10 81.21h8.59v8.59h-8.59zM406.63 81.21h8.59v8.59h-8.59zM415.17 81.21h8.59v8.59h-8.59zM423.71 81.21h8.59v8.59h-8.59zM432.25 81.21h8.59v8.59h-8.59zM440.79 81.21h8.59v8.59h-8.59zM449.32 81.21h8.59v8.59h-8.59zM457.86 81.21h8.59v8.59h-8.59zM466.40 81.21h8.59v8.59h-8.59zM39.50 89.75h8.59v8.59h-8.59zM56.58 89.75h8.59v8.59h-8.59zM346.87 89.75h8.59v8.59h-8.59zM389.56 89.75h8.59v8.59h-8.59zM398.10 89.75h8.59v8.59h-8.59zM406.63 89.75h8.59v8.59h-8.59zM432.25 89.75h8.59v8.59h-8.59zM440.79 89.75h8.59v8.59h-8.59zM48.04 98.28h8.59v8.59h-8.59zM56.58 106.82h8.59v8.59h-8.59zM65.11 106.82h8.59v8.59h-8.59zM73.65 106.82h8.59v8.59h-8.59zM56.58 115.36h8.59v8.59h-8.59zM65.11 115.36h8.59v8.59h-8.59zM73.65 115.36h8.59v8.59h-8.59zM483.48 115.36h8.59v8.59h-8.59zM56.58 123.90h8.59v8.59h-8.59zM82.19 123.90h8.59v8.59h-8.59zM65.11 132.44h8.59v8.59h-8.59zM82.19 132.44h8.59v8.59h-8.59zM65.11 140.97h8.59v8.59h-8.59zM82.19 140.97h8.59v8.59h-8.59zM73.65 149.51h8.59v8.59h-8.59zM73.65 158.05h8.59v8.59h-8.59zM39.50 251.97h8.59v8.59h-8.59zM73.65 260.51h8.59v8.59h-8.59zM39.50 277.58h8.59v8.59h-8.59zM39.50 303.20h8.59v8.59h-8.59zM39.50 311.73h8.59v8.59h-8.59zM39.50 320.27h8.59v8.59h-8.59zM48.04 320.27h8.59v8.59h-8.59zM56.58 320.27h8.59v8.59h-8.59zM39.50 328.81h8.59v8.59h-8.59zM48.04 328.81h8.59v8.59h-8.59zM56.58 328.81h8.59v8.59h-8.59zM56.58 337.35h8.59v8.59h-8.59zM56.58 345.89h8.59v8.59h-8.59zM65.11 345.89h8.59v8.59h-8.59zM65.11 354.42h8.59v8.59h-8.59zM73.65 354.42h8.59v8.59h-8.59zM150.49 354.42h8.59v8.59h-8.59zM159.03 354.42h8.59v8.59h-8.59zM167.57 354.42h8.59v8.59h-8.59zM56.58 362.96h8.59v8.59h-8.59zM73.65 362.96h8.59v8.59h-8.59zM150.49 362.96h8.59v8.59h-8.59zM167.57 362.96h8.59v8.59h-8.59zM176.11 362.96h8.59v8.59h-8.59z"/>
<path fill="#c8c02c" d="M99.27 47.06h8.59v8.59h-8.59zM116.34 55.59h8.59v8.59h-8.59zM133.42 55.59h8.59v8.59h-8.59zM141.96 55.59h8.59v8.59h-8.59zM124.88 72.67h8.59v8.59h-8.59zM124.88 81.21h8.59v8.59h-8.59zM133.42 81.21h8.59v8.59h-8.59zM133.42 89.75h8.59v8.59h-8.59zM159.03 89.75h8.59v8.59h-8.59zM534.70 89.75h8.59v8.59h-8.59zM150.49 98.28h8.59v8.59h-8.59zM167.57 98.28h8.59v8.59h-8.59zM176.11 115.36h8.59v8.59h-8.59zM184.65 115.36h8.59v8.59h-8.59zM252.95 115.36h8.59v8.59h-8.59zM201.72 123.90h8.59v8.59h-8.59zM261.49 123.90h8.59v8.59h-8.59zM287.10 123.90h8.59v8.59h-8.59zM184.65 132.44h8.59v8.59h-8.59zM218.80 132.44h8.59v8.59h-8.59zM133.42 140.97h8.59v8.59h-8.59zM141.96 140.97h8.59v8.59h-8.59zM150.49 140.97h8.59v8.59h-8.59zM193.18 140.97h8.59v8.59h-8.59zM218.80 140.97h8.59v8.59h-8.59zM227.34 140.97h8.59v8.59h-8.59zM235.87 140.97h8.59v8.59h-8.59zM252.95 140.97h8.59v8.59h-8.59zM244.41 149.51h8.59v8.59h-8.59zM252.95 149.51h8.59v8.59h-8.59zM261.49 149.51h8.59v8.59h-8.59zM278.56 149.51h8.59v8.59h-8.59zM312.72 149.51h8.59v8.59h-8.59zM321.25 149.51h8.59v8.59h-8.59zM244.41 158.05h8.59v8.59h-8.59zM252.95 158.05h8.59v8.59h-8.59zM261.49 158.05h8.59v8.59h-8.59zM287.10 158.05h8.59v8.59h-8.59zM304.18 158.05h8.59v8.59h-8.59zM159.03 166.59h8.59v8.59h-8.59zM167.57 166.59h8.59v8.59h-8.59zM261.49 166.59h8.59v8.59h-8.59zM287.10 166.59h8.59v8.59h-8.59zM295.64 166.59h8.59v8.59h-8.59zM312.72 166.59h8.59v8.59h-8.59zM150.49 175.13h8.59v8.59h-8.59zM159.03 175.13h8.59v8.59h-8.59zM184.65 175.13h8.59v8.59h-8.59zM278.56 175.13h8.59v8.59h-8.59zM287.10 175.13h8.59v8.59h-8.59zM304.18 175.13h8.59v8.59h-8.59zM167.57 183.66h8.59v8.59h-8.59zM184.65 183.66h8.59v8.59h-8.59zM278.56 183.66h8.59v8.59h-8.59zM159.03 192.20h8.59v8.59h-8.59zM167.57 192.20h8.59v8.59h-8.59zM176.11 192.20h8.59v8.59h-8.59zM227.34 192.20h8.59v8.59h-8.59zM338.33 192.20h8.59v8.59h-8.59zM346.87 192.20h8.59v8.59h-8.59zM261.49 200.74h8.59v8.59h-8.59zM338.33 200.74h8.59v8.59h-8.59zM210.26 209.28h8.59v8.59h-8.59zM355.41 209.28h8.59v8.59h-8.59zM201.72 217.82h8.59v8.59h-8.59zM210.26 217.82h8.59v8.59h-8.59zM252.95 217.82h8.59v8.59h-8.59zM193.18 226.35h8.59v8.59h-8.59zM338.33 226.35h8.59v8.59h-8.59zM210.26 234.89h8.59v8.59h-8.59zM218.80 234.89h8.59v8.59h-8.59zM329.79 234.89h8.59v8.59h-8.59zM389.56 234.89h8.59v8.59h-8.59zM176.11 243.43h8.59v8.59h-8.59zM244.41 243.43h8.59v8.59h-8.59zM270.03 243.43h8.59v8.59h-8.59zM372.48 243.43h8.59v8.59h-8.59zM500.55 243.43h8.59v8.59h-8.59zM193.18 251.97h8.59v8.59h-8.59zM210.26 251.97h8.59v8.59h-8.59zM346.87 251.97h8.59v8.59h-8.59zM355.41 251.97h8.59v8.59h-8.59zM406.63 251.97h8.59v8.59h-8.59zM415.17 251.97h8.59v8.59h-8.59zM321.25 260.51h8.59v8.59h-8.59zM406.63 260.51h8.59v8.59h-8.59zM415.17 260.51h8.59v8.59h-8.59zM423.71 260.51h8.59v8.59h-8.59zM210.26 269.04h8.59v8.59h-8.59zM218.80 269.04h8.59v8.59h-8.59zM287.10 269.04h8.59v8.59h-8.59zM355.41 269.04h8.59v8.59h-8.59zM406.63 269.04h8.59v8.59h-8.59zM415.17 269.04h8.59v8.59h-8.59zM423.71 269.04h8.59v8.59h-8.59zM193.18 277.58h8.59v8.59h-8.59zM201.72 277.58h8.59v8.59h-8.59zM210.26 277.58h8.59v8.59h-8.59zM235.87 277.58h8.59v8.59h-8.59zM312.72 277.58h8.59v8.59h-8.59zM415.17 277.58h8.59v8.59h-8.59zM423.71 277.58h8.59v8.59h-8.59zM201.72 286.12h8.59v8.59h-8.59zM210.26 286.12h8.59v8.59h-8.59zM227.34 286.12h8.59v8.59h-8.59zM261.49 286.12h8.59v8.59h-8.59zM287.10 286.12h8.59v8.59h-8.59zM346.87 286.12h8.59v8.59h-8.59zM415.17 286.12h8.59v8.59h-8.59zM423.71 286.12h8.59v8.59h-8.59zM244.41 294.66h8.59v8.59h-8.59zM252.95 294.66h8.59v8.59h-8.59zM278.56 294.66h8.59v8.59h-8.59zM406.63 303.20h8.59v8.59h-8.59zM415.17 303.20h8.59v8.59h-8.59zM295.64 311.73h8.59v8.59h-8.59zM278.56 320.27h8.59v8.59h-8.59zM312.72 320.27h8.59v8.59h-8.59zM457.86 320.27h8.59v8.59h-8.59zM483.48 320.27h8.59v8.59h-8.59zM517.63 320.27h8.59v8.59h-8.59zM526.17 320.27h8.59v8.59h-8.59zM252.95 328.81h8.59v8.59h-8.59zM270.03 328.81h8.59v8.59h-8.59zM457.86 328.81h8.59v8.59h-8.59zM466.40 328.81h8.59v8.59h-8.59zM483.48 328.81h8.59v8.59h-8.59zM517.63 328.81h8.59v8.59h-8.59zM526.17 328.81h8.59v8.59h-8.59zM270.03 337.35h8.59v8.59h-8.59zM287.10 337.35h8.59v8.59h-8.59zM466.40 337.35h8.59v8.59h-8.59zM483.48 337.35h8.59v8.59h-8.59zM492.01 345.89h8.59v8.59h-8.59zM500.55 345.89h8.59v8.59h-8.59zM483.48 354.42h8.59v8.59h-8.59zM492.01 354.42h8.59v8.59h-8.59zM474.94 362.96h8.59v8.59h-8.59z"/>
<path fill="#e2bf2e" d="M133.42 47.06h8.59v8.59h-8.59zM133.42 72.67h8.59v8.59h-8.59zM193.18 106.82h8.59v8.59h-8.59zM526.17 123.90h8.59v8.59h-8.59zM312.72 158.05h8.59v8.59h-8.59zM304.18 166.59h8.59v8.59h-8.59zM295.64 175.13h8.59v8.59h-8.59zM492.01 234.89h8.59v8.59h-8.59zM500.55 234.89h8.59v8.59h-8.59zM210.26 243.43h8.59v8.59h-8.59zM218.80 243.43h8.59v8.59h-8.59zM492.01 243.43h8.59v8.59h-8.59zM415.17 294.66h8.59v8.59h-8.59zM389.56 328.81h8.59v8.59h-8.59zM406.63 337.35h8.59v8.59h-8.59zM270.03 345.89h8.59v8.59h-8.59z"/>
<path fill="#7acc5c" d="M141.96 47.06h8.59v8.59h-8.59zM500.55 55.59h8.59v8.59h-8.59zM500.55 64.13h8.59v8.59h-8.59zM509.09 64.13h8.59v8.59h-8.59zM116.34 81.21h8.59v8.59h-8.59zM167.57 81.21h8.59v8.59h-8.59zM167.57 89.75h8.59v8.59h-8.59zM176.11 89.75h8.59v8.59h-8.59zM184.65 98.28h8.59v8.59h-8.59zM159.03 115.36h8.59v8.59h-8.59zM167.57 115.36h8.59v8.59h-8.59zM218.80 115.36h8.59v8.59h-8.59zM244.41 115.36h8.59v8.59h-8.59zM176.11 123.90h8.59v8.59h-8.59zM218.80 123.90h8.59v8.59h-8.59zM227.34 123.90h8.59v8.59h-8.59zM176.11 132.44h8.59v8.59h-8.59zM201.72 132.44h8.59v8.59h-8.59zM184.65 140.97h8.59v8.59h-8.59zM201.72 140.97h8.59v8.59h-8.59zM210.26 140.97h8.59v8.59h-8.59zM261.49 140.97h8.59v8.59h-8.59zM270.03 140.97h8.59v8.59h-8.59zM278.56 140.97h8.59v8.59h-8.59zM287.10 140.97h8.59v8.59h-8.59zM312.72 140.97h8.59v8.59h-8.59zM321.25 140.97h8.59v8.59h-8.59zM133.42 149.51h8.59v8.59h-8.59zM193.18 149.51h8.59v8.59h-8.59zM201.72 149.51h8.59v8.59h-8.59zM210.26 149.51h8.59v8.59h-8.59zM218.80 149.51h8.59v8.59h-8.59zM227.34 149.51h8.59v8.59h-8.59zM159.03 158.05h8.59v8.59h-8.59zM167.57 158.05h8.59v8.59h-8.59zM193.18 158.05h8.59v8.59h-8.59zM201.72 158.05h8.59v8.59h-8.59zM210.26 158.05h8.59v8.59h-8.59zM218.80 158.05h8.59v8.59h-8.59zM295.64 158.05h8.59v8.59h-8.59zM321.25 158.05h8.59v8.59h-8.59zM141.96 166.59h8.59v8.59h-8.59zM150.49 166.59h8.59v8.59h-8.59zM176.11 166.59h8.59v8.59h-8.59zM184.65 166.59h8.59v8.59h-8.59zM193.18 166.59h8.59v8.59h-8.59zM201.72 166.59h8.59v8.59h-8.59zM210.26 166.59h8.59v8.59h-8.59zM252.95 166.59h8.59v8.59h-8.59zM321.25 166.59h8.59v8.59h-8.59zM329.79 166.59h8.59v8.59h-8.59zM141.96 175.13h8.59v8.59h-8.59zM193.18 175.13h8.59v8.59h-8.59zM201.72 175.13h8.59v8.59h-8.59zM210.26 175.13h8.59v8.59h-8.59zM261.49 175.13h8.59v8.59h-8.59zM363.94 175.13h8.59v8.59h-8.59zM372.48 175.13h8.59v8.59h-8.59zM210.26 183.66h8.59v8.59h-8.59zM227.34 183.66h8.59v8.59h-8.59zM184.65 192.20h8.59v8.59h-8.59zM389.56 192.20h8.59v8.59h-8.59zM398.10 192.20h8.59v8.59h-8.59zM167.57 200.74h8.59v8.59h-8.59zM218.80 200.74h8.59v8.59h-8.59zM363.94 200.74h8.59v8.59h-8.59zM167.57 209.28h8.59v8.59h-8.59zM184.65 209.28h8.59v8.59h-8.59zM218.80 209.28h8.59v8.59h-8.59zM278.56 209.28h8.59v8.59h-8.59zM287.10 209.28h8.59v8.59h-8.59zM363.94 209.28h8.59v8.59h-8.59zM176.11 217.82h8.59v8.59h-8.59zM184.65 226.35h8.59v8.59h-8.59zM363.94 226.35h8.59v8.59h-8.59zM184.65 234.89h8.59v8.59h-8.59zM252.95 234.89h8.59v8.59h-8.59zM338.33 234.89h8.59v8.59h-8.59zM363.94 234.89h8.59v8.59h-8.59zM184.65 243.43h8.59v8.59h-8.59zM227.34 243.43h8.59v8.59h-8.59zM483.48 243.43h8.59v8.59h-8.59zM184.65 251.97h8.59v8.59h-8.59zM218.80 251.97h8.59v8.59h-8.59zM363.94 251.97h8.59v8.59h-8.59zM227.34 269.04h8.59v8.59h-8.59zM329.79 269.04h8.59v8.59h-8.59zM252.95 277.58h8.59v8.59h-8.59zM355.41 277.58h8.59v8.59h-8.59zM363.94 277.58h8.59v8.59h-8.59zM184.65 286.12h8.59v8.59h-8.59zM278.56 286.12h8.59v8.59h-8.59zM321.25 286.12h8.59v8.59h-8.59zM355.41 286.12h8.59v8.59h-8.59zM406.63 286.12h8.59v8.59h-8.59zM193.18 294.66h8.59v8.59h-8.59zM210.26 294.66h8.59v8.59h-8.59zM218.80 294.66h8.59v8.59h-8.59zM406.63 294.66h8.59v8.59h-8.59zM440.79 294.66h8.59v8.59h-8.59zM440.79 303.20h8.59v8.59h-8.59zM210.26 320.27h8.59v8.59h-8.59zM218.80 320.27h8.59v8.59h-8.59zM227.34 320.27h8.59v8.59h-8.59zM346.87 320.27h8.59v8.59h-8.59zM363.94 320.27h8.59v8.59h-8.59zM210.26 328.81h8.59v8.59h-8.59zM261.49 328.81h8.59v8.59h-8.59zM235.87 337.35h8.59v8.59h-8.59zM398.10 337.35h8.59v8.59h-8.59zM457.86 354.42h8.59v8.59h-8.59zM466.40 362.96h8.59v8.59h-8.59z"/>
<path fill="#a1c644" d="M107.80 55.59h8.59v8.59h-8.59zM107.80 64.13h8.59v8.59h-8.59zM116.34 64.13h8.59v8.59h-8.59zM107.80 72.67h8.59v8.59h-8.59zM116.34 72.67h8.59v8.59h-8.59zM124.88 89.75h8.59v8.59h-8.59zM176.11 98.28h8.59v8.59h-8.59zM201.72 106.82h8.59v8.59h-8.59zM287.10 132.44h8.59v8.59h-8.59zM355.41 140.97h8.59v8.59h-8.59zM159.03 149.51h8.59v8.59h-8.59zM287.10 149.51h8.59v8.59h-8.59zM329.79 149.51h8.59v8.59h-8.59zM534.70 149.51h8.59v8.59h-8.59zM176.11 200.74h8.59v8.59h-8.59zM176.11 209.28h8.59v8.59h-8.59zM184.65 217.82h8.59v8.59h-8.59zM193.18 217.82h8.59v8.59h-8.59zM304.18 243.43h8.59v8.59h-8.59zM423.71 251.97h8.59v8.59h-8.59zM492.01 251.97h8.59v8.59h-8.59zM355.41 260.51h8.59v8.59h-8.59zM261.49 269.04h8.59v8.59h-8.59zM270.03 269.04h8.59v8.59h-8.59zM372.48 269.04h8.59v8.59h-8.59zM116.34 277.58h8.59v8.59h-8.59zM244.41 277.58h8.59v8.59h-8.59zM278.56 277.58h8.59v8.59h-8.59zM287.10 277.58h8.59v8.59h-8.59zM201.72 294.66h8.59v8.59h-8.59zM235.87 294.66h8.59v8.59h-8.59zM227.34 303.20h8.59v8.59h-8.59zM278.56 303.20h8.59v8.59h-8.59zM398.10 303.20h8.59v8.59h-8.59zM338.33 320.27h8.59v8.59h-8.59zM517.63 337.35h8.59v8.59h-8.59zM526.17 337.35h8.59v8.59h-8.59zM449.32 345.89h8.59v8.59h-8.59zM432.25 354.42h8.59v8.59h-8.59zM440.79 354.42h8.59v8.59h-8.59zM440.79 362.96h8.59v8.59h-8.59z"/>
<path fill="#fad129" d="M534.70 72.67h8.59v8.59h-8.59zM534.70 123.90h8.59v8.59h-8.59zM534.70 132.44h8.59v8.59h-8.59zM372.48 226.35h8.59v8.59h-8.59zM381.02 226.35h8.59v8.59h-8.59zM295.64 234.89h8.59v8.59h-8.59zM304.18 234.89h8.59v8.59h-8.59zM312.72 234.89h8.59v8.59h-8.59zM381.02 234.89h8.59v8.59h-8.59zM270.03 251.97h8.59v8.59h-8.59zM295.64 294.66h8.59v8.59h-8.59zM312.72 303.20h8.59v8.59h-8.59zM500.55 354.42h8.59v8.59h-8.59z"/>
<path fill="#f8f21a" d="M295.64 217.82h8.59v8.59h-8.59zM304.18 217.82h8.59v8.59h-8.59zM295.64 226.35h8.59v8.59h-8.59z"/>
<path fill="#f7ed1d" d="M304.18 226.35h8.59v8.59h-8.59z"/>
</g>
<path d="M39.50 38.52V371.50M48.04 38.52V371.50M56.58 38.52V371.50M65.11 38.52V371.50M73.65 38.52V371.50M82.19 38.52V371.50M90.73 38.52V371.50M99.27 38.52V371.50M107.80 38.52V371.50M116.34 38.52V371.50M124.88 38.52V371.50M133.42 38.52V371.50M141.96 38.52V371.50M150.49 38.52V371.50M159.03 38.52V371.50M167.57 38.52V371.50M176.11 38.52V371.50M184.65 38.52V371.50M193.18 38.52V371.50M201.72 38.52V371.50M210.26 38.52V371.50M218.80 38.52V371.50M227.34 38.52V371.50M235.87 38.52V371.50M244.41 38.52V371.50M252.95 38.52V371.50M261.49 38.52V371.50M270.03 38.52V371.50M278.56 38.52V371.50M287.10 38.52V371.50M295.64 38.52V371.50M304.18 38.52V371.50M312.72 38.52V371.50M321.25 38.52V371.50M329.79 38.52V371.50M338.33 38.52V371.50M346.87 38.52V371.50M355.41 38.52V371.50M363.94 38.52V371.50M372.48 38.52V371.50M381.02 38.52V371.50M389.56 38.52V371.50M398.10 38.52V371.50M406.63 38.52V371.50M415.17 38.52V371.50M423.71 38.52V371.50M432.25 38.52V371.50M440.79 38.52V371.50M449.32 38.52V371.50M457.86 38.52V371.50M466.40 38.52V371.50M474.94 38.52V371.50M483.48 38.52V371.50M492.01 38.52V371.50M500.55 38.52V371.50M509.09 38.52V371.50M517.63 38.52V371.50M526.17 38.52V371.50M534.70 38.52V371.50M543.24 38.52V371.50M39.50 38.52H543.24M39.50 47.06H543.24M39.50 55.59H543.24M39.50 64.13H543.24M39.50 72.67H543.24M39.50 81.21H543.24M39.50 89.75H543.24M39.50 98.28H543.24M39.50 106.82H543.24M39.50 115.36H543.24M39.50 123.90H543.24M39.50 132.44H543.24M39.50 140.97H543.24M39.50 149.51H543.24M39.50 158.05H543.24M39.50 166.59H543.24M39.50 175.13H543.24M39.50 183.66H543.24M39.50 192.20H543.24M39.50 200.74H543.24M39.50 209.28H543.24M39.50 217.82H543.24M39.50 226.35H543.24M39.50 234.89H543.24M39.50 243.43H543.24M39.50 251.97H543.24M39.50 260.51H543.24M39.50 269.04H543.24M39.50 277.58H543.24M39.50 286.12H543.24M39.50 294.66H543.24M39.50 303.20H543.24M39.50 311.73H543.24M39.50 320.27H543.24M39.50 328.81H543.24M39.50 337.35H543.24M39.50 345.89H543.24M39.50 354.42H543.24M39.50 362.96H543.24M39.50 371.50H543.24" stroke="#000010" stroke-width="1.05" fill="none"/>
<polyline points="39.5,38.5 39.5,371.5 543.2,371.5 543.2,38.5 39.5,38.5" fill="none" stroke="#f40818" stroke-width="2.3" stroke-linejoin="miter" stroke-dasharray="8.6 8.54"/>
<circle cx="208.3" cy="157.0" r="84.5" fill="none" stroke="#f40818" stroke-width="2.4" stroke-dasharray="9 7"/>
<polyline points="202.0,38.5 145.6,100.5" fill="none" stroke="#f40818" stroke-width="2.3" stroke-linejoin="miter" stroke-dasharray="8.6 8.54"/>
<polyline points="204.0,38.5 228.0,71.0 272.0,84.2 282.0,112.0 295.3,148.3 301.8,163.0" fill="none" stroke="#f40818" stroke-width="2.3" stroke-linejoin="miter" stroke-dasharray="8.6 8.54"/>
<polyline points="39.5,208.5 124.4,208.5 124.4,157.0" fill="none" stroke="#f40818" stroke-width="2.3" stroke-linejoin="miter" stroke-dasharray="8.6 8.54"/>
<polyline points="300.0,164.0 330.0,167.5 365.0,173.5 381.0,176.4 395.0,182.0 407.0,188.0" fill="none" stroke="#f40818" stroke-width="2.3" stroke-linejoin="miter" stroke-dasharray="8.6 8.54"/>
<polyline points="543.2,166.3 302.0,166.3" fill="none" stroke="#f40818" stroke-width="2.5" stroke-linejoin="miter" stroke-dasharray="9 5"/>
<polyline points="399.8,166.3 418.9,200.9 436.7,234.0 458.0,285.0 429.5,313.7 389.3,370.0" fill="none" stroke="#f40818" stroke-width="2.3" stroke-linejoin="miter" stroke-dasharray="8.6 8.54"/>
<polyline points="260.0,238.0 253.0,262.0 251.5,282.0 255.0,300.0 263.0,322.0 273.0,346.0 283.0,361.0 300.0,366.0 330.0,370.5" fill="none" stroke="#f40818" stroke-width="2.3" stroke-linejoin="miter" stroke-dasharray="8.6 8.54"/>
<circle cx="47.9" cy="47.4" r="2.7" fill="#20c040" stroke="#000" stroke-width="2.6"/>
<text x="54.9" y="50.4" font-size="11" style="fill:#000">1</text>
<circle cx="47.9" cy="200.4" r="2.7" fill="#ff2060" stroke="#000" stroke-width="2.6"/>
<text x="54.9" y="203.4" font-size="11" style="fill:#000">1</text>
<circle cx="47.9" cy="222.8" r="2.7" fill="#40ff60" stroke="#000" stroke-width="2.6"/>
<text x="54.9" y="225.8" font-size="11" style="fill:#000">2</text>
<circle cx="47.9" cy="363.0" r="2.7" fill="#ff3030" stroke="#000" stroke-width="2.6"/>
<text x="54.9" y="366.0" font-size="11" style="fill:#000">2</text>
<circle cx="154.3" cy="214.4" r="2.7" fill="#20c040" stroke="#000" stroke-width="2.6"/>
<circle cx="162.0" cy="214.2" r="2.7" fill="#20c040" stroke="#000" stroke-width="2.6"/>
<text x="167.0" y="219.2" font-size="11" style="fill:#000">3</text>
<circle cx="277.7" cy="362.6" r="2.7" fill="#ff2020" stroke="#000" stroke-width="2.6"/>
<text x="284.7" y="366.6" font-size="11" style="fill:#000">5</text>
<circle cx="423.5" cy="141.8" r="2.7" fill="#20c040" stroke="#000" stroke-width="2.6"/>
<text x="430.5" y="145.8" font-size="11" style="fill:#000">5</text>
<circle cx="412.5" cy="174.5" r="2.7" fill="#203020" stroke="#000" stroke-width="2.6"/>
<text x="417.5" y="178.5" font-size="11" style="fill:#000">3</text>
<circle cx="532.8" cy="41.5" r="2.7" fill="#20c040" stroke="#000" stroke-width="2.6"/>
<text x="538.8" y="44.5" font-size="11" style="fill:#000">4</text>
<polyline points="47.4,47.4 187.0,47.4 172.9,64.4 47.4,64.4 47.4,81.4 157.9,81.4 143.9,98.4 47.4,98.4 47.4,115.4 130.8,115.4 116.7,132.4 47.4,132.4 47.4,149.4 116.2,149.4 116.2,166.4 47.4,166.4 47.4,183.4 116.2,183.4 116.2,200.4 47.4,200.4" fill="none" stroke="#ff10ec" stroke-width="2.5" stroke-linejoin="miter" />
<polyline points="47.4,222.8 160.7,222.8 213.0,238.4 47.4,238.4 47.4,254.0 231.0,254.0 236.5,269.5 47.4,269.5 47.4,285.1 243.5,285.1 248.5,300.7 47.4,300.7 47.4,316.3 254.0,316.3 257.5,331.9 47.4,331.9 47.4,347.4 263.5,347.4 269.0,363.0 47.4,363.0" fill="none" stroke="#ffffff" stroke-width="2.2" stroke-linejoin="miter" />
<path d="M208.3 157.0L288.3 156.4L287.3 144.6L208.3 157.0M208.3 157.0L284.1 131.3L279.4 120.4L208.3 157.0M208.3 157.0L273.6 110.8L266.1 101.7L208.3 157.0M208.3 157.0L260.0 95.9L250.4 89.0L208.3 157.0M208.3 157.0L238.7 83.0L227.5 79.3L208.3 157.0M208.3 157.0L215.2 77.3L203.3 77.2L208.3 157.0M208.3 157.0L191.1 78.9L179.7 82.3L208.3 157.0M208.3 157.0L169.3 87.1L159.4 93.7L208.3 157.0M208.3 157.0L151.0 101.2L143.4 110.3L208.3 157.0M208.3 157.0L137.2 120.4L132.5 131.3L208.3 157.0M208.3 157.0L129.3 144.1L128.3 156.0L208.3 157.0M208.3 157.0L129.8 172.6L133.0 184.0L208.3 157.0M208.3 157.0L138.2 195.5L144.6 205.4L208.3 157.0M208.3 157.0L152.5 214.3L161.6 221.9L208.3 157.0M208.3 157.0L171.7 228.1L182.6 232.8L208.3 157.0M208.3 157.0L193.5 235.6L205.3 236.9L208.3 157.0M208.3 157.0L218.1 236.4L229.7 234.1L208.3 157.0M208.3 157.0L238.3 231.1L249.0 225.9L208.3 157.0M208.3 157.0L252.2 223.9L261.6 216.7L208.3 157.0M208.3 157.0L265.6 212.8L273.2 203.7L208.3 157.0M208.3 157.0L276.5 198.7L282.0 188.2L208.3 157.0M208.3 157.0L286.1 175.6L288.0 163.9L208.3 157.0" stroke="#000" stroke-width="2.6" fill="none" stroke-linejoin="miter"/><circle cx="208.3" cy="157.0" r="16" fill="#000"/>
<polyline points="532.8,41.4 214.8,41.4 234.5,64.0 532.8,64.0 532.8,86.6 283.8,86.6 293.6,109.2 532.8,109.2 532.8,131.8 302.5,131.8 311.7,154.4 532.8,154.4 532.8,154.4" fill="none" stroke="#ff4810" stroke-width="2.5" stroke-linejoin="miter" />
<polyline points="423.5,141.8 228.4,212.8 294.1,396.3 477.6,330.6 416.3,159.4 245.1,220.7 302.0,379.5 460.8,322.7 408.4,176.2 261.9,228.6 309.9,362.8 444.1,314.8 400.5,192.9 278.6,236.6 317.9,346.0 427.3,306.8 392.6,209.7 295.4,244.5 325.8,329.3 410.6,298.9 384.6,226.4 312.1,252.4 333.7,312.5 393.8,291.0 376.7,243.2 328.9,260.3 341.6,295.8 377.1,283.1 368.8,259.9 345.6,268.2 349.5,279.0 360.3,275.2" fill="none" stroke="#8840e0" stroke-width="2.2" stroke-linejoin="miter" />
<polyline points="412.5,176.0 536.0,176.0 536.0,191.6 420.5,191.6 428.7,207.1 536.0,207.1 536.0,222.7 435.6,222.7 445.0,238.2 536.0,238.2 536.0,253.8 452.0,253.8 461.6,269.3 536.0,269.3 536.0,284.9 457.3,284.9 449.5,300.4 536.0,300.4 536.0,316.0 437.0,316.0 428.0,331.5 536.0,331.5 536.0,347.1 414.0,347.1 404.7,362.6 536.0,362.6" fill="none" stroke="#10108a" stroke-width="2.0" stroke-linejoin="miter" />
<circle cx="532.8" cy="154.5" r="2.7" fill="#ff2020" stroke="#000" stroke-width="2.6"/>
<text x="538.8" y="157.5" font-size="11" style="fill:#000">4</text>
<circle cx="535.0" cy="362.6" r="2.7" fill="#ff2020" stroke="#000" stroke-width="2.6"/>
<text x="542.0" y="366.6" font-size="11" style="fill:#000">6</text>
</svg></body></html>
